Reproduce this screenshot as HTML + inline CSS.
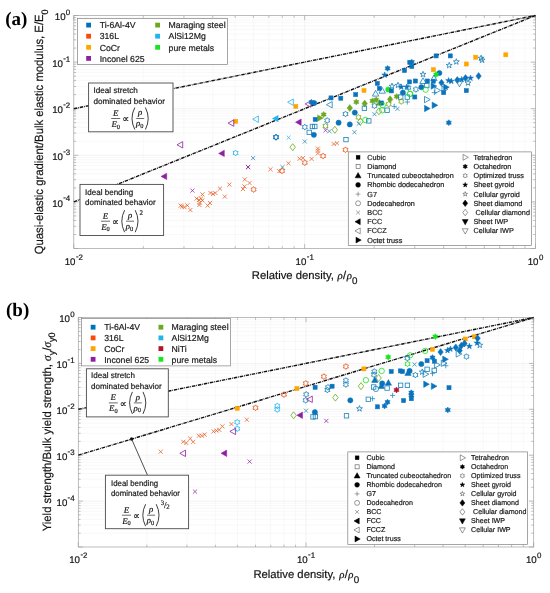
<!DOCTYPE html>
<html lang="en"><head><meta charset="utf-8"><title>Relative density charts</title>
<style>html,body{margin:0;padding:0;background:#fff}svg{display:block}text{stroke:#1a1a1a;stroke-width:.2px}text.pl{stroke:none}</style></head>
<body>
<svg width="550" height="593" viewBox="0 0 550 593" text-rendering="geometricPrecision" font-family="'Liberation Sans', Arial, sans-serif">
<rect width="550" height="593" fill="#fff"/>
<line x1="143.29" y1="15.50" x2="143.29" y2="248.50" stroke="#f5f5f5" stroke-width="0.7"/>
<line x1="183.94" y1="15.50" x2="183.94" y2="248.50" stroke="#f5f5f5" stroke-width="0.7"/>
<line x1="212.79" y1="15.50" x2="212.79" y2="248.50" stroke="#f5f5f5" stroke-width="0.7"/>
<line x1="235.16" y1="15.50" x2="235.16" y2="248.50" stroke="#f5f5f5" stroke-width="0.7"/>
<line x1="253.44" y1="15.50" x2="253.44" y2="248.50" stroke="#f5f5f5" stroke-width="0.7"/>
<line x1="268.89" y1="15.50" x2="268.89" y2="248.50" stroke="#f5f5f5" stroke-width="0.7"/>
<line x1="282.28" y1="15.50" x2="282.28" y2="248.50" stroke="#f5f5f5" stroke-width="0.7"/>
<line x1="294.09" y1="15.50" x2="294.09" y2="248.50" stroke="#f5f5f5" stroke-width="0.7"/>
<line x1="304.65" y1="15.50" x2="304.65" y2="248.50" stroke="#ececec" stroke-width="0.7"/>
<line x1="374.14" y1="15.50" x2="374.14" y2="248.50" stroke="#f5f5f5" stroke-width="0.7"/>
<line x1="414.79" y1="15.50" x2="414.79" y2="248.50" stroke="#f5f5f5" stroke-width="0.7"/>
<line x1="443.64" y1="15.50" x2="443.64" y2="248.50" stroke="#f5f5f5" stroke-width="0.7"/>
<line x1="466.01" y1="15.50" x2="466.01" y2="248.50" stroke="#f5f5f5" stroke-width="0.7"/>
<line x1="484.29" y1="15.50" x2="484.29" y2="248.50" stroke="#f5f5f5" stroke-width="0.7"/>
<line x1="499.74" y1="15.50" x2="499.74" y2="248.50" stroke="#f5f5f5" stroke-width="0.7"/>
<line x1="513.13" y1="15.50" x2="513.13" y2="248.50" stroke="#f5f5f5" stroke-width="0.7"/>
<line x1="524.94" y1="15.50" x2="524.94" y2="248.50" stroke="#f5f5f5" stroke-width="0.7"/>
<line x1="73.80" y1="234.47" x2="535.50" y2="234.47" stroke="#f5f5f5" stroke-width="0.7"/>
<line x1="73.80" y1="226.27" x2="535.50" y2="226.27" stroke="#f5f5f5" stroke-width="0.7"/>
<line x1="73.80" y1="220.44" x2="535.50" y2="220.44" stroke="#f5f5f5" stroke-width="0.7"/>
<line x1="73.80" y1="215.93" x2="535.50" y2="215.93" stroke="#f5f5f5" stroke-width="0.7"/>
<line x1="73.80" y1="212.24" x2="535.50" y2="212.24" stroke="#f5f5f5" stroke-width="0.7"/>
<line x1="73.80" y1="209.12" x2="535.50" y2="209.12" stroke="#f5f5f5" stroke-width="0.7"/>
<line x1="73.80" y1="206.42" x2="535.50" y2="206.42" stroke="#f5f5f5" stroke-width="0.7"/>
<line x1="73.80" y1="204.03" x2="535.50" y2="204.03" stroke="#f5f5f5" stroke-width="0.7"/>
<line x1="73.80" y1="201.90" x2="535.50" y2="201.90" stroke="#ececec" stroke-width="0.7"/>
<line x1="73.80" y1="187.87" x2="535.50" y2="187.87" stroke="#f5f5f5" stroke-width="0.7"/>
<line x1="73.80" y1="179.67" x2="535.50" y2="179.67" stroke="#f5f5f5" stroke-width="0.7"/>
<line x1="73.80" y1="173.84" x2="535.50" y2="173.84" stroke="#f5f5f5" stroke-width="0.7"/>
<line x1="73.80" y1="169.33" x2="535.50" y2="169.33" stroke="#f5f5f5" stroke-width="0.7"/>
<line x1="73.80" y1="165.64" x2="535.50" y2="165.64" stroke="#f5f5f5" stroke-width="0.7"/>
<line x1="73.80" y1="162.52" x2="535.50" y2="162.52" stroke="#f5f5f5" stroke-width="0.7"/>
<line x1="73.80" y1="159.82" x2="535.50" y2="159.82" stroke="#f5f5f5" stroke-width="0.7"/>
<line x1="73.80" y1="157.43" x2="535.50" y2="157.43" stroke="#f5f5f5" stroke-width="0.7"/>
<line x1="73.80" y1="155.30" x2="535.50" y2="155.30" stroke="#ececec" stroke-width="0.7"/>
<line x1="73.80" y1="141.27" x2="535.50" y2="141.27" stroke="#f5f5f5" stroke-width="0.7"/>
<line x1="73.80" y1="133.07" x2="535.50" y2="133.07" stroke="#f5f5f5" stroke-width="0.7"/>
<line x1="73.80" y1="127.24" x2="535.50" y2="127.24" stroke="#f5f5f5" stroke-width="0.7"/>
<line x1="73.80" y1="122.73" x2="535.50" y2="122.73" stroke="#f5f5f5" stroke-width="0.7"/>
<line x1="73.80" y1="119.04" x2="535.50" y2="119.04" stroke="#f5f5f5" stroke-width="0.7"/>
<line x1="73.80" y1="115.92" x2="535.50" y2="115.92" stroke="#f5f5f5" stroke-width="0.7"/>
<line x1="73.80" y1="113.22" x2="535.50" y2="113.22" stroke="#f5f5f5" stroke-width="0.7"/>
<line x1="73.80" y1="110.83" x2="535.50" y2="110.83" stroke="#f5f5f5" stroke-width="0.7"/>
<line x1="73.80" y1="108.70" x2="535.50" y2="108.70" stroke="#ececec" stroke-width="0.7"/>
<line x1="73.80" y1="94.67" x2="535.50" y2="94.67" stroke="#f5f5f5" stroke-width="0.7"/>
<line x1="73.80" y1="86.47" x2="535.50" y2="86.47" stroke="#f5f5f5" stroke-width="0.7"/>
<line x1="73.80" y1="80.64" x2="535.50" y2="80.64" stroke="#f5f5f5" stroke-width="0.7"/>
<line x1="73.80" y1="76.13" x2="535.50" y2="76.13" stroke="#f5f5f5" stroke-width="0.7"/>
<line x1="73.80" y1="72.44" x2="535.50" y2="72.44" stroke="#f5f5f5" stroke-width="0.7"/>
<line x1="73.80" y1="69.32" x2="535.50" y2="69.32" stroke="#f5f5f5" stroke-width="0.7"/>
<line x1="73.80" y1="66.62" x2="535.50" y2="66.62" stroke="#f5f5f5" stroke-width="0.7"/>
<line x1="73.80" y1="64.23" x2="535.50" y2="64.23" stroke="#f5f5f5" stroke-width="0.7"/>
<line x1="73.80" y1="62.10" x2="535.50" y2="62.10" stroke="#ececec" stroke-width="0.7"/>
<line x1="73.80" y1="48.07" x2="535.50" y2="48.07" stroke="#f5f5f5" stroke-width="0.7"/>
<line x1="73.80" y1="39.87" x2="535.50" y2="39.87" stroke="#f5f5f5" stroke-width="0.7"/>
<line x1="73.80" y1="34.04" x2="535.50" y2="34.04" stroke="#f5f5f5" stroke-width="0.7"/>
<line x1="73.80" y1="29.53" x2="535.50" y2="29.53" stroke="#f5f5f5" stroke-width="0.7"/>
<line x1="73.80" y1="25.84" x2="535.50" y2="25.84" stroke="#f5f5f5" stroke-width="0.7"/>
<line x1="73.80" y1="22.72" x2="535.50" y2="22.72" stroke="#f5f5f5" stroke-width="0.7"/>
<line x1="73.80" y1="20.02" x2="535.50" y2="20.02" stroke="#f5f5f5" stroke-width="0.7"/>
<line x1="73.80" y1="17.63" x2="535.50" y2="17.63" stroke="#f5f5f5" stroke-width="0.7"/>
<path d="M73.80 248.50v-4.60M73.80 15.50v4.60" stroke="#969696" stroke-width="0.6"/>
<path d="M143.29 248.50v-2.30M143.29 15.50v2.30" stroke="#969696" stroke-width="0.6"/>
<path d="M183.94 248.50v-2.30M183.94 15.50v2.30" stroke="#969696" stroke-width="0.6"/>
<path d="M212.79 248.50v-2.30M212.79 15.50v2.30" stroke="#969696" stroke-width="0.6"/>
<path d="M235.16 248.50v-2.30M235.16 15.50v2.30" stroke="#969696" stroke-width="0.6"/>
<path d="M253.44 248.50v-2.30M253.44 15.50v2.30" stroke="#969696" stroke-width="0.6"/>
<path d="M268.89 248.50v-2.30M268.89 15.50v2.30" stroke="#969696" stroke-width="0.6"/>
<path d="M282.28 248.50v-2.30M282.28 15.50v2.30" stroke="#969696" stroke-width="0.6"/>
<path d="M294.09 248.50v-2.30M294.09 15.50v2.30" stroke="#969696" stroke-width="0.6"/>
<path d="M304.65 248.50v-4.60M304.65 15.50v4.60" stroke="#969696" stroke-width="0.6"/>
<path d="M374.14 248.50v-2.30M374.14 15.50v2.30" stroke="#969696" stroke-width="0.6"/>
<path d="M414.79 248.50v-2.30M414.79 15.50v2.30" stroke="#969696" stroke-width="0.6"/>
<path d="M443.64 248.50v-2.30M443.64 15.50v2.30" stroke="#969696" stroke-width="0.6"/>
<path d="M466.01 248.50v-2.30M466.01 15.50v2.30" stroke="#969696" stroke-width="0.6"/>
<path d="M484.29 248.50v-2.30M484.29 15.50v2.30" stroke="#969696" stroke-width="0.6"/>
<path d="M499.74 248.50v-2.30M499.74 15.50v2.30" stroke="#969696" stroke-width="0.6"/>
<path d="M513.13 248.50v-2.30M513.13 15.50v2.30" stroke="#969696" stroke-width="0.6"/>
<path d="M524.94 248.50v-2.30M524.94 15.50v2.30" stroke="#969696" stroke-width="0.6"/>
<path d="M535.50 248.50v-4.60M535.50 15.50v4.60" stroke="#969696" stroke-width="0.6"/>
<path d="M73.80 248.50h4.60M535.50 248.50h-4.60" stroke="#969696" stroke-width="0.6"/>
<path d="M73.80 234.47h2.30M535.50 234.47h-2.30" stroke="#969696" stroke-width="0.6"/>
<path d="M73.80 226.27h2.30M535.50 226.27h-2.30" stroke="#969696" stroke-width="0.6"/>
<path d="M73.80 220.44h2.30M535.50 220.44h-2.30" stroke="#969696" stroke-width="0.6"/>
<path d="M73.80 215.93h2.30M535.50 215.93h-2.30" stroke="#969696" stroke-width="0.6"/>
<path d="M73.80 212.24h2.30M535.50 212.24h-2.30" stroke="#969696" stroke-width="0.6"/>
<path d="M73.80 209.12h2.30M535.50 209.12h-2.30" stroke="#969696" stroke-width="0.6"/>
<path d="M73.80 206.42h2.30M535.50 206.42h-2.30" stroke="#969696" stroke-width="0.6"/>
<path d="M73.80 204.03h2.30M535.50 204.03h-2.30" stroke="#969696" stroke-width="0.6"/>
<path d="M73.80 201.90h4.60M535.50 201.90h-4.60" stroke="#969696" stroke-width="0.6"/>
<path d="M73.80 187.87h2.30M535.50 187.87h-2.30" stroke="#969696" stroke-width="0.6"/>
<path d="M73.80 179.67h2.30M535.50 179.67h-2.30" stroke="#969696" stroke-width="0.6"/>
<path d="M73.80 173.84h2.30M535.50 173.84h-2.30" stroke="#969696" stroke-width="0.6"/>
<path d="M73.80 169.33h2.30M535.50 169.33h-2.30" stroke="#969696" stroke-width="0.6"/>
<path d="M73.80 165.64h2.30M535.50 165.64h-2.30" stroke="#969696" stroke-width="0.6"/>
<path d="M73.80 162.52h2.30M535.50 162.52h-2.30" stroke="#969696" stroke-width="0.6"/>
<path d="M73.80 159.82h2.30M535.50 159.82h-2.30" stroke="#969696" stroke-width="0.6"/>
<path d="M73.80 157.43h2.30M535.50 157.43h-2.30" stroke="#969696" stroke-width="0.6"/>
<path d="M73.80 155.30h4.60M535.50 155.30h-4.60" stroke="#969696" stroke-width="0.6"/>
<path d="M73.80 141.27h2.30M535.50 141.27h-2.30" stroke="#969696" stroke-width="0.6"/>
<path d="M73.80 133.07h2.30M535.50 133.07h-2.30" stroke="#969696" stroke-width="0.6"/>
<path d="M73.80 127.24h2.30M535.50 127.24h-2.30" stroke="#969696" stroke-width="0.6"/>
<path d="M73.80 122.73h2.30M535.50 122.73h-2.30" stroke="#969696" stroke-width="0.6"/>
<path d="M73.80 119.04h2.30M535.50 119.04h-2.30" stroke="#969696" stroke-width="0.6"/>
<path d="M73.80 115.92h2.30M535.50 115.92h-2.30" stroke="#969696" stroke-width="0.6"/>
<path d="M73.80 113.22h2.30M535.50 113.22h-2.30" stroke="#969696" stroke-width="0.6"/>
<path d="M73.80 110.83h2.30M535.50 110.83h-2.30" stroke="#969696" stroke-width="0.6"/>
<path d="M73.80 108.70h4.60M535.50 108.70h-4.60" stroke="#969696" stroke-width="0.6"/>
<path d="M73.80 94.67h2.30M535.50 94.67h-2.30" stroke="#969696" stroke-width="0.6"/>
<path d="M73.80 86.47h2.30M535.50 86.47h-2.30" stroke="#969696" stroke-width="0.6"/>
<path d="M73.80 80.64h2.30M535.50 80.64h-2.30" stroke="#969696" stroke-width="0.6"/>
<path d="M73.80 76.13h2.30M535.50 76.13h-2.30" stroke="#969696" stroke-width="0.6"/>
<path d="M73.80 72.44h2.30M535.50 72.44h-2.30" stroke="#969696" stroke-width="0.6"/>
<path d="M73.80 69.32h2.30M535.50 69.32h-2.30" stroke="#969696" stroke-width="0.6"/>
<path d="M73.80 66.62h2.30M535.50 66.62h-2.30" stroke="#969696" stroke-width="0.6"/>
<path d="M73.80 64.23h2.30M535.50 64.23h-2.30" stroke="#969696" stroke-width="0.6"/>
<path d="M73.80 62.10h4.60M535.50 62.10h-4.60" stroke="#969696" stroke-width="0.6"/>
<path d="M73.80 48.07h2.30M535.50 48.07h-2.30" stroke="#969696" stroke-width="0.6"/>
<path d="M73.80 39.87h2.30M535.50 39.87h-2.30" stroke="#969696" stroke-width="0.6"/>
<path d="M73.80 34.04h2.30M535.50 34.04h-2.30" stroke="#969696" stroke-width="0.6"/>
<path d="M73.80 29.53h2.30M535.50 29.53h-2.30" stroke="#969696" stroke-width="0.6"/>
<path d="M73.80 25.84h2.30M535.50 25.84h-2.30" stroke="#969696" stroke-width="0.6"/>
<path d="M73.80 22.72h2.30M535.50 22.72h-2.30" stroke="#969696" stroke-width="0.6"/>
<path d="M73.80 20.02h2.30M535.50 20.02h-2.30" stroke="#969696" stroke-width="0.6"/>
<path d="M73.80 17.63h2.30M535.50 17.63h-2.30" stroke="#969696" stroke-width="0.6"/>
<path d="M73.80 15.50h4.60M535.50 15.50h-4.60" stroke="#969696" stroke-width="0.6"/>
<rect x="73.80" y="15.50" width="461.70" height="233.00" fill="none" stroke="#a0a0a0" stroke-width="0.7"/>
<line x1="73.80" y1="108.70" x2="535.50" y2="15.50" stroke="#111" stroke-width="1.4" stroke-dasharray="3.5 0.9 0.8 0.9"/>
<line x1="73.80" y1="201.90" x2="535.50" y2="15.50" stroke="#111" stroke-width="1.4" stroke-dasharray="3.5 0.9 0.8 0.9"/>
<rect x="233.65" y="119.25" width="4.10" height="4.10" fill="#FFA500" stroke="#FFA500" stroke-width="0.5"/>
<polygon points="228.10,123.10 233.80,119.90 233.80,126.30" fill="none" stroke="#8E1FA0" stroke-width="0.80" stroke-linejoin="miter"/>
<polygon points="177.00,144.80 182.70,141.60 182.70,148.00" fill="none" stroke="#8E1FA0" stroke-width="0.80" stroke-linejoin="miter"/>
<polygon points="218.60,153.40 224.30,150.20 224.30,156.60" fill="#8E1FA0" stroke="#8E1FA0" stroke-width="0.5" stroke-linejoin="miter"/>
<polygon points="235.60,150.05 236.51,151.42 238.15,151.53 237.43,153.00 238.15,154.47 236.51,154.58 235.60,155.95 234.69,154.58 233.05,154.47 233.77,153.00 233.05,151.53 234.69,151.42" fill="none" stroke="#22B4EE" stroke-width="0.80" stroke-linejoin="miter"/>
<polygon points="161.00,176.40 166.70,173.20 166.70,179.60" fill="#8E1FA0" stroke="#8E1FA0" stroke-width="0.5" stroke-linejoin="miter"/>
<path d="M245.95 164.95L250.05 169.05M245.95 169.05L250.05 164.95" stroke="#8E1FA0" stroke-width="0.72" fill="none"/>
<path d="M190.35 188.55L194.45 192.65M190.35 192.65L194.45 188.55" stroke="#8E1FA0" stroke-width="0.72" fill="none"/>
<polygon points="253.60,186.55 254.51,187.92 256.15,188.03 255.43,189.50 256.15,190.97 254.51,191.08 253.60,192.45 252.69,191.08 251.05,190.97 251.77,189.50 251.05,188.03 252.69,187.92" fill="none" stroke="#E4561B" stroke-width="0.80" stroke-linejoin="miter"/>
<path d="M178.55 203.55L182.65 207.65M178.55 207.65L182.65 203.55" stroke="#E4561B" stroke-width="0.72" fill="none"/>
<path d="M179.95 204.55L184.05 208.65M179.95 208.65L184.05 204.55" stroke="#E4561B" stroke-width="0.72" fill="none"/>
<path d="M182.35 205.15L186.45 209.25M182.35 209.25L186.45 205.15" stroke="#E4561B" stroke-width="0.72" fill="none"/>
<path d="M185.35 203.35L189.45 207.45M185.35 207.45L189.45 203.35" stroke="#E4561B" stroke-width="0.72" fill="none"/>
<path d="M188.35 207.95L192.45 212.05M188.35 212.05L192.45 207.95" stroke="#E4561B" stroke-width="0.72" fill="none"/>
<path d="M194.55 196.55L198.65 200.65M194.55 200.65L198.65 196.55" stroke="#E4561B" stroke-width="0.72" fill="none"/>
<path d="M196.95 197.95L201.05 202.05M196.95 202.05L201.05 197.95" stroke="#E4561B" stroke-width="0.72" fill="none"/>
<path d="M197.55 200.95L201.65 205.05M197.55 205.05L201.65 200.95" stroke="#E4561B" stroke-width="0.72" fill="none"/>
<path d="M197.35 202.95L201.45 207.05M197.35 207.05L201.45 202.95" stroke="#E4561B" stroke-width="0.72" fill="none"/>
<path d="M198.95 196.55L203.05 200.65M198.95 200.65L203.05 196.55" stroke="#E4561B" stroke-width="0.72" fill="none"/>
<path d="M200.35 198.35L204.45 202.45M200.35 202.45L204.45 198.35" stroke="#E4561B" stroke-width="0.72" fill="none"/>
<path d="M200.35 192.35L204.45 196.45M200.35 196.45L204.45 192.35" stroke="#E4561B" stroke-width="0.72" fill="none"/>
<path d="M205.55 203.55L209.65 207.65M205.55 207.65L209.65 203.55" stroke="#E4561B" stroke-width="0.72" fill="none"/>
<path d="M207.95 200.95L212.05 205.05M207.95 205.05L212.05 200.95" stroke="#E4561B" stroke-width="0.72" fill="none"/>
<path d="M208.35 190.95L212.45 195.05M208.35 195.05L212.45 190.95" stroke="#E4561B" stroke-width="0.72" fill="none"/>
<path d="M210.95 191.95L215.05 196.05M210.95 196.05L215.05 191.95" stroke="#E4561B" stroke-width="0.72" fill="none"/>
<path d="M213.35 190.95L217.45 195.05M213.35 195.05L217.45 190.95" stroke="#E4561B" stroke-width="0.72" fill="none"/>
<path d="M217.95 186.55L222.05 190.65M217.95 190.65L222.05 186.55" stroke="#E4561B" stroke-width="0.72" fill="none"/>
<path d="M222.75 194.55L226.85 198.65M222.75 198.65L226.85 194.55" stroke="#E4561B" stroke-width="0.72" fill="none"/>
<path d="M227.35 182.55L231.45 186.65M227.35 186.65L231.45 182.55" stroke="#E4561B" stroke-width="0.72" fill="none"/>
<path d="M240.95 186.95L245.05 191.05M240.95 191.05L245.05 186.95" stroke="#E4561B" stroke-width="0.72" fill="none"/>
<path d="M242.35 184.35L246.45 188.45M242.35 188.45L246.45 184.35" stroke="#E4561B" stroke-width="0.72" fill="none"/>
<path d="M242.75 177.35L246.85 181.45M242.75 181.45L246.85 177.35" stroke="#E4561B" stroke-width="0.72" fill="none"/>
<path d="M247.55 180.95L251.65 185.05M247.55 185.05L251.65 180.95" stroke="#E4561B" stroke-width="0.72" fill="none"/>
<path d="M268.45 167.25L272.55 171.35M268.45 171.35L272.55 167.25" stroke="#E4561B" stroke-width="0.72" fill="none"/>
<path d="M277.25 169.15L281.35 173.25M277.25 173.25L281.35 169.15" stroke="#E4561B" stroke-width="0.72" fill="none"/>
<path d="M286.45 161.25L290.55 165.35M286.45 165.35L290.55 161.25" stroke="#E4561B" stroke-width="0.72" fill="none"/>
<path d="M297.55 156.65L301.65 160.75M297.55 160.75L301.65 156.65" stroke="#E4561B" stroke-width="0.72" fill="none"/>
<path d="M331.65 141.95L335.75 146.05M331.65 146.05L335.75 141.95" stroke="#E4561B" stroke-width="0.72" fill="none"/>
<path d="M334.95 141.25L339.05 145.35M334.95 145.35L339.05 141.25" stroke="#E4561B" stroke-width="0.72" fill="none"/>
<path d="M315.85 146.45L319.95 150.55M315.85 150.55L319.95 146.45" stroke="#E4561B" stroke-width="0.72" fill="none"/>
<path d="M315.85 148.65L319.95 152.75M315.85 152.75L319.95 148.65" stroke="#E4561B" stroke-width="0.72" fill="none"/>
<path d="M315.85 151.35L319.95 155.45M315.85 155.45L319.95 151.35" stroke="#E4561B" stroke-width="0.72" fill="none"/>
<path d="M300.85 156.05L304.95 160.15M300.85 160.15L304.95 156.05" stroke="#E4561B" stroke-width="0.72" fill="none"/>
<path d="M309.55 156.85L313.65 160.95M309.55 160.95L313.65 156.85" stroke="#E4561B" stroke-width="0.72" fill="none"/>
<polygon points="287.60,102.20 293.30,99.00 293.30,105.40" fill="none" stroke="#22B4EE" stroke-width="0.80" stroke-linejoin="miter"/>
<rect x="293.75" y="104.35" width="4.10" height="4.10" fill="#FFA500" stroke="#FFA500" stroke-width="0.5"/>
<polygon points="252.70,119.20 258.40,116.00 258.40,122.40" fill="none" stroke="#22B4EE" stroke-width="0.80" stroke-linejoin="miter"/>
<polygon points="272.40,118.60 278.10,115.40 278.10,121.80" fill="#22B4EE" stroke="#22B4EE" stroke-width="0.5" stroke-linejoin="miter"/>
<polygon points="295.50,122.20 301.20,119.00 301.20,125.40" fill="#8E1FA0" stroke="#8E1FA0" stroke-width="0.5" stroke-linejoin="miter"/>
<polygon points="305.20,104.00 310.90,100.80 310.90,107.20" fill="none" stroke="#8E1FA0" stroke-width="0.80" stroke-linejoin="miter"/>
<polygon points="311.40,99.25 312.31,100.62 313.95,100.73 313.23,102.20 313.95,103.67 312.31,103.78 311.40,105.15 310.49,103.78 308.85,103.67 309.57,102.20 308.85,100.73 310.49,100.62" fill="#0A73BD" stroke="#0A73BD" stroke-width="0.5" stroke-linejoin="miter"/>
<circle cx="314.20" cy="103.00" r="2.60" fill="#0A73BD" stroke="#0A73BD" stroke-width="0.5"/>
<rect x="328.95" y="95.85" width="4.10" height="4.10" fill="#0A73BD" stroke="#0A73BD" stroke-width="0.5"/>
<rect x="338.75" y="96.15" width="4.10" height="4.10" fill="#0A73BD" stroke="#0A73BD" stroke-width="0.5"/>
<polygon points="326.50,104.70 332.20,101.50 332.20,107.90" fill="none" stroke="#1B80B8" stroke-width="0.80" stroke-linejoin="miter"/>
<polygon points="349.80,104.50 352.50,108.00 349.80,111.50 347.10,108.00" fill="#6DA823" stroke="#6DA823" stroke-width="0.5" stroke-linejoin="miter"/>
<polygon points="323.70,111.55 324.61,112.92 326.25,113.03 325.53,114.50 326.25,115.97 324.61,116.08 323.70,117.45 322.79,116.08 321.15,115.97 321.87,114.50 321.15,113.03 322.79,112.92" fill="#6DA823" stroke="#6DA823" stroke-width="0.5" stroke-linejoin="miter"/>
<polygon points="323.30,118.10 317.60,114.90 317.60,121.30" fill="#6DA823" stroke="#6DA823" stroke-width="0.5" stroke-linejoin="miter"/>
<rect x="313.15" y="117.35" width="4.10" height="4.10" fill="#0A73BD" stroke="#0A73BD" stroke-width="0.5"/>
<polygon points="345.50,111.05 346.41,112.42 348.05,112.53 347.33,114.00 348.05,115.47 346.41,115.58 345.50,116.95 344.59,115.58 342.95,115.47 343.67,114.00 342.95,112.53 344.59,112.42" fill="none" stroke="#1B80B8" stroke-width="0.80" stroke-linejoin="miter"/>
<polygon points="327.20,117.55 328.11,118.92 329.75,119.03 329.03,120.50 329.75,121.97 328.11,122.08 327.20,123.45 326.29,122.08 324.65,121.97 325.37,120.50 324.65,119.03 326.29,118.92" fill="none" stroke="#1B80B8" stroke-width="0.80" stroke-linejoin="miter"/>
<circle cx="338.60" cy="122.70" r="2.60" fill="#0A73BD" stroke="#0A73BD" stroke-width="0.5"/>
<circle cx="349.80" cy="124.40" r="2.60" fill="#0A73BD" stroke="#0A73BD" stroke-width="0.5"/>
<circle cx="354.80" cy="112.60" r="2.60" fill="#0A73BD" stroke="#0A73BD" stroke-width="0.5"/>
<rect x="353.65" y="92.55" width="4.10" height="4.10" fill="#0A73BD" stroke="#0A73BD" stroke-width="0.5"/>
<polygon points="304.80,124.15 305.71,125.52 307.35,125.62 306.63,127.10 307.35,128.57 305.71,128.68 304.80,130.05 303.89,128.68 302.25,128.57 302.97,127.10 302.25,125.62 303.89,125.52" fill="none" stroke="#1B80B8" stroke-width="0.80" stroke-linejoin="miter"/>
<rect x="310.20" y="124.30" width="4.40" height="4.40" fill="none" stroke="#1B80B8" stroke-width="0.80"/>
<rect x="312.60" y="124.30" width="4.40" height="4.40" fill="none" stroke="#1B80B8" stroke-width="0.80"/>
<polygon points="325.50,123.05 326.41,124.42 328.05,124.53 327.33,126.00 328.05,127.47 326.41,127.58 325.50,128.95 324.59,127.58 322.95,127.47 323.67,126.00 322.95,124.53 324.59,124.42" fill="none" stroke="#6DA823" stroke-width="0.80" stroke-linejoin="miter"/>
<polygon points="334.80,126.30 337.50,129.80 334.80,133.30 332.10,129.80" fill="none" stroke="#6DA823" stroke-width="0.80" stroke-linejoin="miter"/>
<path d="M323.45 128.25L327.55 132.35M323.45 132.35L327.55 128.25" stroke="#8E1FA0" stroke-width="0.72" fill="none"/>
<path d="M327.35 129.15L331.45 133.25M327.35 133.25L331.45 129.15" stroke="#1B80B8" stroke-width="0.72" fill="none"/>
<rect x="307.00" y="130.20" width="4.40" height="4.40" fill="none" stroke="#1B80B8" stroke-width="0.80"/>
<circle cx="313.90" cy="134.80" r="2.60" fill="#0A73BD" stroke="#0A73BD" stroke-width="0.5"/>
<path d="M352.35 130.15L356.45 134.25M352.35 134.25L356.45 130.15" stroke="#1B80B8" stroke-width="0.72" fill="none"/>
<polygon points="276.00,134.45 276.91,135.82 278.55,135.93 277.83,137.40 278.55,138.88 276.91,138.98 276.00,140.35 275.09,138.98 273.45,138.88 274.17,137.40 273.45,135.93 275.09,135.82" fill="none" stroke="#0A73BD" stroke-width="0.80" stroke-linejoin="miter"/>
<polygon points="276.00,134.05 276.91,135.42 278.55,135.53 277.83,137.00 278.55,138.47 276.91,138.58 276.00,139.95 275.09,138.58 273.45,138.47 274.17,137.00 273.45,135.53 275.09,135.42" fill="none" stroke="#0A73BD" stroke-width="0.80" stroke-linejoin="miter"/>
<path d="M286.65 135.55L290.75 139.65M286.65 139.65L290.75 135.55" stroke="#22B4EE" stroke-width="0.72" fill="none"/>
<polygon points="292.70,143.70 295.40,147.20 292.70,150.70 290.00,147.20" fill="none" stroke="#6DA823" stroke-width="0.80" stroke-linejoin="miter"/>
<path d="M251.05 156.05L255.15 160.15M251.05 160.15L255.15 156.05" stroke="#1B80B8" stroke-width="0.72" fill="none"/>
<path d="M246.15 165.05L250.25 169.15M246.15 169.15L250.25 165.05" stroke="#8E1FA0" stroke-width="0.72" fill="none"/>
<path d="M280.45 165.05L284.55 169.15M280.45 169.15L284.55 165.05" stroke="#1B80B8" stroke-width="0.72" fill="none"/>
<polygon points="282.00,167.95 282.91,169.32 284.55,169.43 283.83,170.90 284.55,172.38 282.91,172.48 282.00,173.85 281.09,172.48 279.45,172.38 280.17,170.90 279.45,169.43 281.09,169.32" fill="none" stroke="#E4561B" stroke-width="0.80" stroke-linejoin="miter"/>
<path d="M302.75 139.45L306.85 143.55M302.75 143.55L306.85 139.45" stroke="#1B80B8" stroke-width="0.72" fill="none"/>
<rect x="343.80" y="137.40" width="4.40" height="4.40" fill="none" stroke="#1B80B8" stroke-width="0.80"/>
<polygon points="345.50,146.85 346.41,148.22 348.05,148.33 347.33,149.80 348.05,151.28 346.41,151.38 345.50,152.75 344.59,151.38 342.95,151.28 343.67,149.80 342.95,148.33 344.59,148.22" fill="none" stroke="#E4561B" stroke-width="0.80" stroke-linejoin="miter"/>
<polygon points="323.10,153.05 324.01,154.42 325.65,154.53 324.93,156.00 325.65,157.47 324.01,157.58 323.10,158.95 322.19,157.58 320.55,157.47 321.27,156.00 320.55,154.53 322.19,154.42" fill="none" stroke="#E4561B" stroke-width="0.80" stroke-linejoin="miter"/>
<polygon points="304.80,159.75 305.71,161.12 307.35,161.22 306.63,162.70 307.35,164.17 305.71,164.28 304.80,165.65 303.89,164.28 302.25,164.17 302.97,162.70 302.25,161.22 303.89,161.12" fill="none" stroke="#E4561B" stroke-width="0.80" stroke-linejoin="miter"/>
<rect x="361.95" y="88.45" width="4.10" height="4.10" fill="#FFA500" stroke="#FFA500" stroke-width="0.5"/>
<polygon points="375.60,90.40 372.40,96.10 378.80,96.10" fill="none" stroke="#1B80B8" stroke-width="0.80" stroke-linejoin="miter"/>
<polygon points="382.20,87.50 379.00,93.20 385.40,93.20" fill="none" stroke="#1B80B8" stroke-width="0.80" stroke-linejoin="miter"/>
<circle cx="388.20" cy="89.50" r="2.60" fill="#18E61C" stroke="#18E61C" stroke-width="0.5"/>
<rect x="389.35" y="88.85" width="4.10" height="4.10" fill="#0A73BD" stroke="#0A73BD" stroke-width="0.5"/>
<circle cx="402.90" cy="92.70" r="2.60" fill="#0A73BD" stroke="#0A73BD" stroke-width="0.5"/>
<circle cx="409.80" cy="94.00" r="2.70" fill="none" stroke="#18E61C" stroke-width="0.80"/>
<polygon points="356.30,99.05 357.21,100.42 358.85,100.53 358.13,102.00 358.85,103.47 357.21,103.58 356.30,104.95 355.39,103.58 353.75,103.47 354.47,102.00 353.75,100.53 355.39,100.42" fill="#6DA823" stroke="#6DA823" stroke-width="0.5" stroke-linejoin="miter"/>
<polygon points="364.70,100.10 367.40,103.60 364.70,107.10 362.00,103.60" fill="#6DA823" stroke="#6DA823" stroke-width="0.5" stroke-linejoin="miter"/>
<polygon points="372.40,97.95 373.31,99.32 374.95,99.43 374.23,100.90 374.95,102.38 373.31,102.48 372.40,103.85 371.49,102.48 369.85,102.38 370.57,100.90 369.85,99.43 371.49,99.32" fill="#6DA823" stroke="#6DA823" stroke-width="0.5" stroke-linejoin="miter"/>
<polygon points="376.20,96.85 377.11,98.22 378.75,98.33 378.03,99.80 378.75,101.27 377.11,101.38 376.20,102.75 375.29,101.38 373.65,101.27 374.37,99.80 373.65,98.33 375.29,98.22" fill="#6DA823" stroke="#6DA823" stroke-width="0.5" stroke-linejoin="miter"/>
<polygon points="379.40,99.60 376.20,105.30 382.60,105.30" fill="#6DA823" stroke="#6DA823" stroke-width="0.5" stroke-linejoin="miter"/>
<polygon points="390.10,95.80 392.80,99.30 390.10,102.80 387.40,99.30" fill="#6DA823" stroke="#6DA823" stroke-width="0.5" stroke-linejoin="miter"/>
<polygon points="396.70,93.55 397.61,94.92 399.25,95.03 398.53,96.50 399.25,97.97 397.61,98.08 396.70,99.45 395.79,98.08 394.15,97.97 394.87,96.50 394.15,95.03 395.79,94.92" fill="#6DA823" stroke="#6DA823" stroke-width="0.5" stroke-linejoin="miter"/>
<rect x="398.50" y="94.90" width="4.40" height="4.40" fill="none" stroke="#1B80B8" stroke-width="0.80"/>
<rect x="405.10" y="94.90" width="4.40" height="4.40" fill="none" stroke="#1B80B8" stroke-width="0.80"/>
<polygon points="401.30,98.55 402.21,99.92 403.85,100.03 403.13,101.50 403.85,102.97 402.21,103.08 401.30,104.45 400.39,103.08 398.75,102.97 399.47,101.50 398.75,100.03 400.39,99.92" fill="none" stroke="#6DA823" stroke-width="0.80" stroke-linejoin="miter"/>
<path d="M404.70 102.00L409.90 102.00M407.30 99.40L407.30 104.60" stroke="#1B80B8" stroke-width="0.72" fill="none"/>
<rect x="362.20" y="106.10" width="4.40" height="4.40" fill="none" stroke="#1B80B8" stroke-width="0.80"/>
<polygon points="374.50,102.85 375.41,104.22 377.05,104.33 376.33,105.80 377.05,107.27 375.41,107.38 374.50,108.75 373.59,107.38 371.95,107.27 372.67,105.80 371.95,104.33 373.59,104.22" fill="none" stroke="#1B80B8" stroke-width="0.80" stroke-linejoin="miter"/>
<rect x="379.55" y="100.95" width="4.10" height="4.10" fill="#0A73BD" stroke="#0A73BD" stroke-width="0.5"/>
<circle cx="382.70" cy="105.30" r="2.70" fill="none" stroke="#18E61C" stroke-width="0.80"/>
<polygon points="388.70,101.25 389.61,102.62 391.25,102.73 390.53,104.20 391.25,105.67 389.61,105.78 388.70,107.15 387.79,105.78 386.15,105.67 386.87,104.20 386.15,102.73 387.79,102.62" fill="none" stroke="#6DA823" stroke-width="0.80" stroke-linejoin="miter"/>
<path d="M391.60 106.40L396.80 106.40M394.20 103.80L394.20 109.00" stroke="#1B80B8" stroke-width="0.72" fill="none"/>
<path d="M395.35 106.75L399.45 110.85M395.35 110.85L399.45 106.75" stroke="#1B80B8" stroke-width="0.72" fill="none"/>
<polygon points="378.90,107.80 381.60,111.30 378.90,114.80 376.20,111.30" fill="none" stroke="#6DA823" stroke-width="0.80" stroke-linejoin="miter"/>
<circle cx="382.20" cy="110.20" r="2.70" fill="none" stroke="#18E61C" stroke-width="0.80"/>
<rect x="384.90" y="108.00" width="4.40" height="4.40" fill="none" stroke="#1B80B8" stroke-width="0.80"/>
<path d="M372.45 112.15L376.55 116.25M372.45 116.25L376.55 112.15" stroke="#1B80B8" stroke-width="0.72" fill="none"/>
<polygon points="358.50,114.35 359.41,115.72 361.05,115.83 360.33,117.30 361.05,118.77 359.41,118.88 358.50,120.25 357.59,118.88 355.95,118.77 356.67,117.30 355.95,115.83 357.59,115.72" fill="none" stroke="#6DA823" stroke-width="0.80" stroke-linejoin="miter"/>
<polygon points="360.40,118.10 363.10,121.60 360.40,125.10 357.70,121.60" fill="none" stroke="#6DA823" stroke-width="0.80" stroke-linejoin="miter"/>
<circle cx="365.30" cy="120.00" r="2.70" fill="none" stroke="#18E61C" stroke-width="0.80"/>
<rect x="366.60" y="118.70" width="4.40" height="4.40" fill="none" stroke="#1B80B8" stroke-width="0.80"/>
<path d="M356.65 121.75L360.75 125.85M356.65 125.85L360.75 121.75" stroke="#1B80B8" stroke-width="0.72" fill="none"/>
<polygon points="387.60,65.45 388.51,66.82 390.15,66.93 389.43,68.40 390.15,69.88 388.51,69.98 387.60,71.35 386.69,69.98 385.05,69.88 385.77,68.40 385.05,66.93 386.69,66.82" fill="#0A73BD" stroke="#0A73BD" stroke-width="0.5" stroke-linejoin="miter"/>
<polygon points="384.70,71.90 385.43,74.00 387.65,74.04 385.88,75.38 386.52,77.51 384.70,76.24 382.88,77.51 383.52,75.38 381.75,74.04 383.97,74.00" fill="#0A73BD" stroke="#0A73BD" stroke-width="0.5" stroke-linejoin="miter"/>
<rect x="402.45" y="68.45" width="4.10" height="4.10" fill="#0A73BD" stroke="#0A73BD" stroke-width="0.5"/>
<rect x="375.25" y="81.35" width="4.10" height="4.10" fill="#0A73BD" stroke="#0A73BD" stroke-width="0.5"/>
<rect x="407.75" y="60.35" width="4.10" height="4.10" fill="#0A73BD" stroke="#0A73BD" stroke-width="0.5"/>
<rect x="407.45" y="79.85" width="4.10" height="4.10" fill="#0A73BD" stroke="#0A73BD" stroke-width="0.5"/>
<rect x="377.35" y="86.35" width="4.10" height="4.10" fill="#0A73BD" stroke="#0A73BD" stroke-width="0.5"/>
<polygon points="392.00,83.10 392.73,85.20 394.95,85.24 393.18,86.58 393.82,88.71 392.00,87.44 390.18,88.71 390.82,86.58 389.05,85.24 391.27,85.20" fill="none" stroke="#1B80B8" stroke-width="0.80" stroke-linejoin="miter"/>
<polygon points="398.00,82.20 398.73,84.30 400.95,84.34 399.18,85.68 399.82,87.81 398.00,86.54 396.18,87.81 396.82,85.68 395.05,84.34 397.27,84.30" fill="none" stroke="#1B80B8" stroke-width="0.80" stroke-linejoin="miter"/>
<polygon points="401.30,83.90 402.03,86.00 404.25,86.04 402.48,87.38 403.12,89.51 401.30,88.24 399.48,89.51 400.12,87.38 398.35,86.04 400.57,86.00" fill="#0A73BD" stroke="#0A73BD" stroke-width="0.5" stroke-linejoin="miter"/>
<polygon points="406.70,83.90 407.43,86.00 409.65,86.04 407.88,87.38 408.52,89.51 406.70,88.24 404.88,89.51 405.52,87.38 403.75,86.04 405.97,86.00" fill="#0A73BD" stroke="#0A73BD" stroke-width="0.5" stroke-linejoin="miter"/>
<rect x="434.05" y="53.85" width="4.10" height="4.10" fill="#0A73BD" stroke="#0A73BD" stroke-width="0.5"/>
<rect x="448.25" y="53.85" width="4.10" height="4.10" fill="#0A73BD" stroke="#0A73BD" stroke-width="0.5"/>
<polygon points="411.80,59.15 412.71,60.52 414.35,60.62 413.63,62.10 414.35,63.58 412.71,63.68 411.80,65.05 410.89,63.68 409.25,63.58 409.97,62.10 409.25,60.62 410.89,60.52" fill="#0A73BD" stroke="#0A73BD" stroke-width="0.5" stroke-linejoin="miter"/>
<rect x="409.75" y="64.45" width="4.10" height="4.10" fill="#0A73BD" stroke="#0A73BD" stroke-width="0.5"/>
<rect x="431.35" y="67.65" width="4.10" height="4.10" fill="#FFA500" stroke="#FFA500" stroke-width="0.5"/>
<polygon points="456.30,58.70 457.03,60.80 459.25,60.84 457.48,62.18 458.12,64.31 456.30,63.04 454.48,64.31 455.12,62.18 453.35,60.84 455.57,60.80" fill="none" stroke="#1B80B8" stroke-width="0.80" stroke-linejoin="miter"/>
<polygon points="449.20,62.30 449.93,64.40 452.15,64.44 450.38,65.78 451.02,67.91 449.20,66.64 447.38,67.91 448.02,65.78 446.25,64.44 448.47,64.40" fill="none" stroke="#1B80B8" stroke-width="0.80" stroke-linejoin="miter"/>
<circle cx="439.40" cy="73.00" r="2.60" fill="#0A73BD" stroke="#0A73BD" stroke-width="0.5"/>
<polygon points="436.10,71.65 437.01,73.02 438.65,73.12 437.93,74.60 438.65,76.07 437.01,76.18 436.10,77.55 435.19,76.18 433.55,76.07 434.27,74.60 433.55,73.12 435.19,73.02" fill="#18E61C" stroke="#18E61C" stroke-width="0.5" stroke-linejoin="miter"/>
<polygon points="423.00,71.30 423.73,73.40 425.95,73.44 424.18,74.78 424.82,76.91 423.00,75.64 421.18,76.91 421.82,74.78 420.05,73.44 422.27,73.40" fill="none" stroke="#1B80B8" stroke-width="0.80" stroke-linejoin="miter"/>
<polygon points="433.90,75.00 430.70,80.70 437.10,80.70" fill="none" stroke="#1B80B8" stroke-width="0.80" stroke-linejoin="miter"/>
<rect x="413.35" y="78.95" width="4.10" height="4.10" fill="#0A73BD" stroke="#0A73BD" stroke-width="0.5"/>
<polygon points="423.00,77.80 419.80,83.50 426.20,83.50" fill="none" stroke="#1B80B8" stroke-width="0.80" stroke-linejoin="miter"/>
<rect x="425.35" y="78.95" width="4.10" height="4.10" fill="#0A73BD" stroke="#0A73BD" stroke-width="0.5"/>
<rect x="431.35" y="79.15" width="4.10" height="4.10" fill="#0A73BD" stroke="#0A73BD" stroke-width="0.5"/>
<polygon points="441.50,79.30 444.20,82.80 441.50,86.30 438.80,82.80" fill="#0A73BD" stroke="#0A73BD" stroke-width="0.5" stroke-linejoin="miter"/>
<polygon points="448.60,77.50 449.33,79.60 451.55,79.64 449.78,80.98 450.42,83.11 448.60,81.84 446.78,83.11 447.42,80.98 445.65,79.64 447.87,79.60" fill="#0A73BD" stroke="#0A73BD" stroke-width="0.5" stroke-linejoin="miter"/>
<polygon points="451.30,78.10 452.03,80.20 454.25,80.24 452.48,81.58 453.12,83.71 451.30,82.44 449.48,83.71 450.12,81.58 448.35,80.24 450.57,80.20" fill="#0A73BD" stroke="#0A73BD" stroke-width="0.5" stroke-linejoin="miter"/>
<polygon points="457.30,76.60 460.00,80.10 457.30,83.60 454.60,80.10" fill="#0A73BD" stroke="#0A73BD" stroke-width="0.5" stroke-linejoin="miter"/>
<polygon points="461.70,76.40 462.43,78.50 464.65,78.54 462.88,79.88 463.52,82.01 461.70,80.74 459.88,82.01 460.52,79.88 458.75,78.54 460.97,78.50" fill="#0A73BD" stroke="#0A73BD" stroke-width="0.5" stroke-linejoin="miter"/>
<polygon points="459.50,86.80 456.30,81.10 462.70,81.10" fill="none" stroke="#1B80B8" stroke-width="0.80" stroke-linejoin="miter"/>
<circle cx="421.40" cy="87.20" r="2.60" fill="#0A73BD" stroke="#0A73BD" stroke-width="0.5"/>
<rect x="424.60" y="83.30" width="4.40" height="4.40" fill="none" stroke="#1B80B8" stroke-width="0.80"/>
<circle cx="425.70" cy="89.70" r="2.70" fill="none" stroke="#18E61C" stroke-width="0.80"/>
<polygon points="436.80,86.10 431.10,82.90 431.10,89.30" fill="#0A73BD" stroke="#0A73BD" stroke-width="0.5" stroke-linejoin="miter"/>
<polygon points="440.60,90.40 434.90,87.20 434.90,93.60" fill="none" stroke="#1B80B8" stroke-width="0.80" stroke-linejoin="miter"/>
<polygon points="447.70,89.40 442.00,86.20 442.00,92.60" fill="none" stroke="#1B80B8" stroke-width="0.80" stroke-linejoin="miter"/>
<polygon points="449.30,87.20 443.60,84.00 443.60,90.40" fill="#0A73BD" stroke="#0A73BD" stroke-width="0.5" stroke-linejoin="miter"/>
<rect x="441.65" y="90.55" width="4.10" height="4.10" fill="#0A73BD" stroke="#0A73BD" stroke-width="0.5"/>
<polygon points="415.90,86.45 416.81,87.82 418.45,87.93 417.73,89.40 418.45,90.88 416.81,90.98 415.90,92.35 414.99,90.98 413.35,90.88 414.07,89.40 413.35,87.93 414.99,87.82" fill="none" stroke="#1B80B8" stroke-width="0.80" stroke-linejoin="miter"/>
<polygon points="408.30,84.75 409.21,86.12 410.85,86.23 410.13,87.70 410.85,89.17 409.21,89.28 408.30,90.65 407.39,89.28 405.75,89.17 406.47,87.70 405.75,86.23 407.39,86.12" fill="none" stroke="#1B80B8" stroke-width="0.80" stroke-linejoin="miter"/>
<circle cx="410.20" cy="93.70" r="2.70" fill="none" stroke="#18E61C" stroke-width="0.80"/>
<rect x="412.75" y="94.95" width="4.10" height="4.10" fill="#0A73BD" stroke="#0A73BD" stroke-width="0.5"/>
<polygon points="430.20,99.60 424.50,96.40 424.50,102.80" fill="none" stroke="#1B80B8" stroke-width="0.80" stroke-linejoin="miter"/>
<path d="M431.80 92.60L437.00 92.60M434.40 90.00L434.40 95.20" stroke="#1B80B8" stroke-width="0.72" fill="none"/>
<polygon points="437.80,105.30 432.10,102.10 432.10,108.50" fill="#0A73BD" stroke="#0A73BD" stroke-width="0.5" stroke-linejoin="miter"/>
<polygon points="430.20,108.50 424.50,105.30 424.50,111.70" fill="#0A73BD" stroke="#0A73BD" stroke-width="0.5" stroke-linejoin="miter"/>
<polygon points="448.80,119.75 449.71,121.12 451.35,121.23 450.63,122.70 451.35,124.17 449.71,124.28 448.80,125.65 447.89,124.28 446.25,124.17 446.97,122.70 446.25,121.23 447.89,121.12" fill="#0A73BD" stroke="#0A73BD" stroke-width="0.5" stroke-linejoin="miter"/>
<rect x="503.75" y="52.75" width="4.10" height="4.10" fill="#FFA500" stroke="#FFA500" stroke-width="0.5"/>
<rect x="473.65" y="55.15" width="4.10" height="4.10" fill="#FFA500" stroke="#FFA500" stroke-width="0.5"/>
<rect x="464.25" y="61.95" width="4.10" height="4.10" fill="#FFA500" stroke="#FFA500" stroke-width="0.5"/>
<polygon points="481.10,55.10 481.83,57.20 484.05,57.24 482.28,58.58 482.92,60.71 481.10,59.44 479.28,60.71 479.92,58.58 478.15,57.24 480.37,57.20" fill="none" stroke="#1B80B8" stroke-width="0.80" stroke-linejoin="miter"/>
<polygon points="482.10,57.00 482.83,59.10 485.05,59.14 483.28,60.48 483.92,62.61 482.10,61.34 480.28,62.61 480.92,60.48 479.15,59.14 481.37,59.10" fill="none" stroke="#1B80B8" stroke-width="0.80" stroke-linejoin="miter"/>
<polygon points="478.60,72.60 481.30,76.10 478.60,79.60 475.90,76.10" fill="#0A73BD" stroke="#0A73BD" stroke-width="0.5" stroke-linejoin="miter"/>
<polygon points="470.50,75.00 471.23,77.10 473.45,77.14 471.68,78.48 472.32,80.61 470.50,79.34 468.68,80.61 469.32,78.48 467.55,77.14 469.77,77.10" fill="#0A73BD" stroke="#0A73BD" stroke-width="0.5" stroke-linejoin="miter"/>
<polygon points="465.50,74.60 468.20,78.10 465.50,81.60 462.80,78.10" fill="#0A73BD" stroke="#0A73BD" stroke-width="0.5" stroke-linejoin="miter"/>
<polygon points="468.00,79.80 468.73,81.90 470.95,81.94 469.18,83.28 469.82,85.41 468.00,84.14 466.18,85.41 466.82,83.28 465.05,81.94 467.27,81.90" fill="none" stroke="#1B80B8" stroke-width="0.80" stroke-linejoin="miter"/>
<rect x="464.25" y="88.55" width="4.10" height="4.10" fill="#0A73BD" stroke="#0A73BD" stroke-width="0.5"/>
<line x1="146.84" y1="317.50" x2="146.84" y2="547.00" stroke="#f5f5f5" stroke-width="0.7"/>
<line x1="186.94" y1="317.50" x2="186.94" y2="547.00" stroke="#f5f5f5" stroke-width="0.7"/>
<line x1="215.39" y1="317.50" x2="215.39" y2="547.00" stroke="#f5f5f5" stroke-width="0.7"/>
<line x1="237.46" y1="317.50" x2="237.46" y2="547.00" stroke="#f5f5f5" stroke-width="0.7"/>
<line x1="255.49" y1="317.50" x2="255.49" y2="547.00" stroke="#f5f5f5" stroke-width="0.7"/>
<line x1="270.73" y1="317.50" x2="270.73" y2="547.00" stroke="#f5f5f5" stroke-width="0.7"/>
<line x1="283.93" y1="317.50" x2="283.93" y2="547.00" stroke="#f5f5f5" stroke-width="0.7"/>
<line x1="295.58" y1="317.50" x2="295.58" y2="547.00" stroke="#f5f5f5" stroke-width="0.7"/>
<line x1="306.00" y1="317.50" x2="306.00" y2="547.00" stroke="#ececec" stroke-width="0.7"/>
<line x1="374.54" y1="317.50" x2="374.54" y2="547.00" stroke="#f5f5f5" stroke-width="0.7"/>
<line x1="414.64" y1="317.50" x2="414.64" y2="547.00" stroke="#f5f5f5" stroke-width="0.7"/>
<line x1="443.09" y1="317.50" x2="443.09" y2="547.00" stroke="#f5f5f5" stroke-width="0.7"/>
<line x1="465.16" y1="317.50" x2="465.16" y2="547.00" stroke="#f5f5f5" stroke-width="0.7"/>
<line x1="483.19" y1="317.50" x2="483.19" y2="547.00" stroke="#f5f5f5" stroke-width="0.7"/>
<line x1="498.43" y1="317.50" x2="498.43" y2="547.00" stroke="#f5f5f5" stroke-width="0.7"/>
<line x1="511.63" y1="317.50" x2="511.63" y2="547.00" stroke="#f5f5f5" stroke-width="0.7"/>
<line x1="523.28" y1="317.50" x2="523.28" y2="547.00" stroke="#f5f5f5" stroke-width="0.7"/>
<line x1="78.30" y1="533.18" x2="533.70" y2="533.18" stroke="#f5f5f5" stroke-width="0.7"/>
<line x1="78.30" y1="525.10" x2="533.70" y2="525.10" stroke="#f5f5f5" stroke-width="0.7"/>
<line x1="78.30" y1="519.37" x2="533.70" y2="519.37" stroke="#f5f5f5" stroke-width="0.7"/>
<line x1="78.30" y1="514.92" x2="533.70" y2="514.92" stroke="#f5f5f5" stroke-width="0.7"/>
<line x1="78.30" y1="511.28" x2="533.70" y2="511.28" stroke="#f5f5f5" stroke-width="0.7"/>
<line x1="78.30" y1="508.21" x2="533.70" y2="508.21" stroke="#f5f5f5" stroke-width="0.7"/>
<line x1="78.30" y1="505.55" x2="533.70" y2="505.55" stroke="#f5f5f5" stroke-width="0.7"/>
<line x1="78.30" y1="503.20" x2="533.70" y2="503.20" stroke="#f5f5f5" stroke-width="0.7"/>
<line x1="78.30" y1="501.10" x2="533.70" y2="501.10" stroke="#ececec" stroke-width="0.7"/>
<line x1="78.30" y1="487.28" x2="533.70" y2="487.28" stroke="#f5f5f5" stroke-width="0.7"/>
<line x1="78.30" y1="479.20" x2="533.70" y2="479.20" stroke="#f5f5f5" stroke-width="0.7"/>
<line x1="78.30" y1="473.47" x2="533.70" y2="473.47" stroke="#f5f5f5" stroke-width="0.7"/>
<line x1="78.30" y1="469.02" x2="533.70" y2="469.02" stroke="#f5f5f5" stroke-width="0.7"/>
<line x1="78.30" y1="465.38" x2="533.70" y2="465.38" stroke="#f5f5f5" stroke-width="0.7"/>
<line x1="78.30" y1="462.31" x2="533.70" y2="462.31" stroke="#f5f5f5" stroke-width="0.7"/>
<line x1="78.30" y1="459.65" x2="533.70" y2="459.65" stroke="#f5f5f5" stroke-width="0.7"/>
<line x1="78.30" y1="457.30" x2="533.70" y2="457.30" stroke="#f5f5f5" stroke-width="0.7"/>
<line x1="78.30" y1="455.20" x2="533.70" y2="455.20" stroke="#ececec" stroke-width="0.7"/>
<line x1="78.30" y1="441.38" x2="533.70" y2="441.38" stroke="#f5f5f5" stroke-width="0.7"/>
<line x1="78.30" y1="433.30" x2="533.70" y2="433.30" stroke="#f5f5f5" stroke-width="0.7"/>
<line x1="78.30" y1="427.57" x2="533.70" y2="427.57" stroke="#f5f5f5" stroke-width="0.7"/>
<line x1="78.30" y1="423.12" x2="533.70" y2="423.12" stroke="#f5f5f5" stroke-width="0.7"/>
<line x1="78.30" y1="419.48" x2="533.70" y2="419.48" stroke="#f5f5f5" stroke-width="0.7"/>
<line x1="78.30" y1="416.41" x2="533.70" y2="416.41" stroke="#f5f5f5" stroke-width="0.7"/>
<line x1="78.30" y1="413.75" x2="533.70" y2="413.75" stroke="#f5f5f5" stroke-width="0.7"/>
<line x1="78.30" y1="411.40" x2="533.70" y2="411.40" stroke="#f5f5f5" stroke-width="0.7"/>
<line x1="78.30" y1="409.30" x2="533.70" y2="409.30" stroke="#ececec" stroke-width="0.7"/>
<line x1="78.30" y1="395.48" x2="533.70" y2="395.48" stroke="#f5f5f5" stroke-width="0.7"/>
<line x1="78.30" y1="387.40" x2="533.70" y2="387.40" stroke="#f5f5f5" stroke-width="0.7"/>
<line x1="78.30" y1="381.67" x2="533.70" y2="381.67" stroke="#f5f5f5" stroke-width="0.7"/>
<line x1="78.30" y1="377.22" x2="533.70" y2="377.22" stroke="#f5f5f5" stroke-width="0.7"/>
<line x1="78.30" y1="373.58" x2="533.70" y2="373.58" stroke="#f5f5f5" stroke-width="0.7"/>
<line x1="78.30" y1="370.51" x2="533.70" y2="370.51" stroke="#f5f5f5" stroke-width="0.7"/>
<line x1="78.30" y1="367.85" x2="533.70" y2="367.85" stroke="#f5f5f5" stroke-width="0.7"/>
<line x1="78.30" y1="365.50" x2="533.70" y2="365.50" stroke="#f5f5f5" stroke-width="0.7"/>
<line x1="78.30" y1="363.40" x2="533.70" y2="363.40" stroke="#ececec" stroke-width="0.7"/>
<line x1="78.30" y1="349.58" x2="533.70" y2="349.58" stroke="#f5f5f5" stroke-width="0.7"/>
<line x1="78.30" y1="341.50" x2="533.70" y2="341.50" stroke="#f5f5f5" stroke-width="0.7"/>
<line x1="78.30" y1="335.77" x2="533.70" y2="335.77" stroke="#f5f5f5" stroke-width="0.7"/>
<line x1="78.30" y1="331.32" x2="533.70" y2="331.32" stroke="#f5f5f5" stroke-width="0.7"/>
<line x1="78.30" y1="327.68" x2="533.70" y2="327.68" stroke="#f5f5f5" stroke-width="0.7"/>
<line x1="78.30" y1="324.61" x2="533.70" y2="324.61" stroke="#f5f5f5" stroke-width="0.7"/>
<line x1="78.30" y1="321.95" x2="533.70" y2="321.95" stroke="#f5f5f5" stroke-width="0.7"/>
<line x1="78.30" y1="319.60" x2="533.70" y2="319.60" stroke="#f5f5f5" stroke-width="0.7"/>
<path d="M78.30 547.00v-4.60M78.30 317.50v4.60" stroke="#969696" stroke-width="0.6"/>
<path d="M146.84 547.00v-2.30M146.84 317.50v2.30" stroke="#969696" stroke-width="0.6"/>
<path d="M186.94 547.00v-2.30M186.94 317.50v2.30" stroke="#969696" stroke-width="0.6"/>
<path d="M215.39 547.00v-2.30M215.39 317.50v2.30" stroke="#969696" stroke-width="0.6"/>
<path d="M237.46 547.00v-2.30M237.46 317.50v2.30" stroke="#969696" stroke-width="0.6"/>
<path d="M255.49 547.00v-2.30M255.49 317.50v2.30" stroke="#969696" stroke-width="0.6"/>
<path d="M270.73 547.00v-2.30M270.73 317.50v2.30" stroke="#969696" stroke-width="0.6"/>
<path d="M283.93 547.00v-2.30M283.93 317.50v2.30" stroke="#969696" stroke-width="0.6"/>
<path d="M295.58 547.00v-2.30M295.58 317.50v2.30" stroke="#969696" stroke-width="0.6"/>
<path d="M306.00 547.00v-4.60M306.00 317.50v4.60" stroke="#969696" stroke-width="0.6"/>
<path d="M374.54 547.00v-2.30M374.54 317.50v2.30" stroke="#969696" stroke-width="0.6"/>
<path d="M414.64 547.00v-2.30M414.64 317.50v2.30" stroke="#969696" stroke-width="0.6"/>
<path d="M443.09 547.00v-2.30M443.09 317.50v2.30" stroke="#969696" stroke-width="0.6"/>
<path d="M465.16 547.00v-2.30M465.16 317.50v2.30" stroke="#969696" stroke-width="0.6"/>
<path d="M483.19 547.00v-2.30M483.19 317.50v2.30" stroke="#969696" stroke-width="0.6"/>
<path d="M498.43 547.00v-2.30M498.43 317.50v2.30" stroke="#969696" stroke-width="0.6"/>
<path d="M511.63 547.00v-2.30M511.63 317.50v2.30" stroke="#969696" stroke-width="0.6"/>
<path d="M523.28 547.00v-2.30M523.28 317.50v2.30" stroke="#969696" stroke-width="0.6"/>
<path d="M533.70 547.00v-4.60M533.70 317.50v4.60" stroke="#969696" stroke-width="0.6"/>
<path d="M78.30 547.00h4.60M533.70 547.00h-4.60" stroke="#969696" stroke-width="0.6"/>
<path d="M78.30 533.18h2.30M533.70 533.18h-2.30" stroke="#969696" stroke-width="0.6"/>
<path d="M78.30 525.10h2.30M533.70 525.10h-2.30" stroke="#969696" stroke-width="0.6"/>
<path d="M78.30 519.37h2.30M533.70 519.37h-2.30" stroke="#969696" stroke-width="0.6"/>
<path d="M78.30 514.92h2.30M533.70 514.92h-2.30" stroke="#969696" stroke-width="0.6"/>
<path d="M78.30 511.28h2.30M533.70 511.28h-2.30" stroke="#969696" stroke-width="0.6"/>
<path d="M78.30 508.21h2.30M533.70 508.21h-2.30" stroke="#969696" stroke-width="0.6"/>
<path d="M78.30 505.55h2.30M533.70 505.55h-2.30" stroke="#969696" stroke-width="0.6"/>
<path d="M78.30 503.20h2.30M533.70 503.20h-2.30" stroke="#969696" stroke-width="0.6"/>
<path d="M78.30 501.10h4.60M533.70 501.10h-4.60" stroke="#969696" stroke-width="0.6"/>
<path d="M78.30 487.28h2.30M533.70 487.28h-2.30" stroke="#969696" stroke-width="0.6"/>
<path d="M78.30 479.20h2.30M533.70 479.20h-2.30" stroke="#969696" stroke-width="0.6"/>
<path d="M78.30 473.47h2.30M533.70 473.47h-2.30" stroke="#969696" stroke-width="0.6"/>
<path d="M78.30 469.02h2.30M533.70 469.02h-2.30" stroke="#969696" stroke-width="0.6"/>
<path d="M78.30 465.38h2.30M533.70 465.38h-2.30" stroke="#969696" stroke-width="0.6"/>
<path d="M78.30 462.31h2.30M533.70 462.31h-2.30" stroke="#969696" stroke-width="0.6"/>
<path d="M78.30 459.65h2.30M533.70 459.65h-2.30" stroke="#969696" stroke-width="0.6"/>
<path d="M78.30 457.30h2.30M533.70 457.30h-2.30" stroke="#969696" stroke-width="0.6"/>
<path d="M78.30 455.20h4.60M533.70 455.20h-4.60" stroke="#969696" stroke-width="0.6"/>
<path d="M78.30 441.38h2.30M533.70 441.38h-2.30" stroke="#969696" stroke-width="0.6"/>
<path d="M78.30 433.30h2.30M533.70 433.30h-2.30" stroke="#969696" stroke-width="0.6"/>
<path d="M78.30 427.57h2.30M533.70 427.57h-2.30" stroke="#969696" stroke-width="0.6"/>
<path d="M78.30 423.12h2.30M533.70 423.12h-2.30" stroke="#969696" stroke-width="0.6"/>
<path d="M78.30 419.48h2.30M533.70 419.48h-2.30" stroke="#969696" stroke-width="0.6"/>
<path d="M78.30 416.41h2.30M533.70 416.41h-2.30" stroke="#969696" stroke-width="0.6"/>
<path d="M78.30 413.75h2.30M533.70 413.75h-2.30" stroke="#969696" stroke-width="0.6"/>
<path d="M78.30 411.40h2.30M533.70 411.40h-2.30" stroke="#969696" stroke-width="0.6"/>
<path d="M78.30 409.30h4.60M533.70 409.30h-4.60" stroke="#969696" stroke-width="0.6"/>
<path d="M78.30 395.48h2.30M533.70 395.48h-2.30" stroke="#969696" stroke-width="0.6"/>
<path d="M78.30 387.40h2.30M533.70 387.40h-2.30" stroke="#969696" stroke-width="0.6"/>
<path d="M78.30 381.67h2.30M533.70 381.67h-2.30" stroke="#969696" stroke-width="0.6"/>
<path d="M78.30 377.22h2.30M533.70 377.22h-2.30" stroke="#969696" stroke-width="0.6"/>
<path d="M78.30 373.58h2.30M533.70 373.58h-2.30" stroke="#969696" stroke-width="0.6"/>
<path d="M78.30 370.51h2.30M533.70 370.51h-2.30" stroke="#969696" stroke-width="0.6"/>
<path d="M78.30 367.85h2.30M533.70 367.85h-2.30" stroke="#969696" stroke-width="0.6"/>
<path d="M78.30 365.50h2.30M533.70 365.50h-2.30" stroke="#969696" stroke-width="0.6"/>
<path d="M78.30 363.40h4.60M533.70 363.40h-4.60" stroke="#969696" stroke-width="0.6"/>
<path d="M78.30 349.58h2.30M533.70 349.58h-2.30" stroke="#969696" stroke-width="0.6"/>
<path d="M78.30 341.50h2.30M533.70 341.50h-2.30" stroke="#969696" stroke-width="0.6"/>
<path d="M78.30 335.77h2.30M533.70 335.77h-2.30" stroke="#969696" stroke-width="0.6"/>
<path d="M78.30 331.32h2.30M533.70 331.32h-2.30" stroke="#969696" stroke-width="0.6"/>
<path d="M78.30 327.68h2.30M533.70 327.68h-2.30" stroke="#969696" stroke-width="0.6"/>
<path d="M78.30 324.61h2.30M533.70 324.61h-2.30" stroke="#969696" stroke-width="0.6"/>
<path d="M78.30 321.95h2.30M533.70 321.95h-2.30" stroke="#969696" stroke-width="0.6"/>
<path d="M78.30 319.60h2.30M533.70 319.60h-2.30" stroke="#969696" stroke-width="0.6"/>
<path d="M78.30 317.50h4.60M533.70 317.50h-4.60" stroke="#969696" stroke-width="0.6"/>
<rect x="78.30" y="317.50" width="455.40" height="229.50" fill="none" stroke="#a0a0a0" stroke-width="0.7"/>
<line x1="78.30" y1="409.30" x2="533.70" y2="317.50" stroke="#111" stroke-width="1.4" stroke-dasharray="3.5 0.9 0.8 0.9"/>
<line x1="78.30" y1="455.20" x2="533.70" y2="317.50" stroke="#111" stroke-width="1.4" stroke-dasharray="3.5 0.9 0.8 0.9"/>
<path d="M158.65 449.65L162.75 453.75M158.65 453.75L162.75 449.65" stroke="#E4561B" stroke-width="0.72" fill="none"/>
<path d="M181.25 439.75L185.35 443.85M181.25 443.85L185.35 439.75" stroke="#E4561B" stroke-width="0.72" fill="none"/>
<path d="M184.25 440.95L188.35 445.05M184.25 445.05L188.35 440.95" stroke="#E4561B" stroke-width="0.72" fill="none"/>
<path d="M188.15 436.55L192.25 440.65M188.15 440.65L192.25 436.55" stroke="#E4561B" stroke-width="0.72" fill="none"/>
<path d="M191.05 439.75L195.15 443.85M191.05 443.85L195.15 439.75" stroke="#E4561B" stroke-width="0.72" fill="none"/>
<path d="M196.85 433.65L200.95 437.75M196.85 437.75L200.95 433.65" stroke="#E4561B" stroke-width="0.72" fill="none"/>
<path d="M199.75 433.65L203.85 437.75M199.75 437.75L203.85 433.65" stroke="#E4561B" stroke-width="0.72" fill="none"/>
<path d="M202.65 432.55L206.75 436.65M202.65 436.65L206.75 432.55" stroke="#E4561B" stroke-width="0.72" fill="none"/>
<path d="M211.45 429.35L215.55 433.45M211.45 433.45L215.55 429.35" stroke="#E4561B" stroke-width="0.72" fill="none"/>
<path d="M214.35 428.55L218.45 432.65M214.35 432.65L218.45 428.55" stroke="#E4561B" stroke-width="0.72" fill="none"/>
<path d="M217.25 427.85L221.35 431.95M217.25 431.95L221.35 427.85" stroke="#E4561B" stroke-width="0.72" fill="none"/>
<path d="M244.75 417.65L248.85 421.75M244.75 421.75L248.85 417.65" stroke="#E4561B" stroke-width="0.72" fill="none"/>
<path d="M229.35 422.05L233.45 426.15M229.35 426.15L233.45 422.05" stroke="#E4561B" stroke-width="0.72" fill="none"/>
<path d="M220.35 424.25L224.45 428.35M220.35 428.35L224.45 424.25" stroke="#E4561B" stroke-width="0.72" fill="none"/>
<polygon points="179.80,453.30 185.50,450.10 185.50,456.50" fill="none" stroke="#8E1FA0" stroke-width="0.80" stroke-linejoin="miter"/>
<rect x="235.15" y="406.35" width="4.10" height="4.10" fill="#FFA500" stroke="#FFA500" stroke-width="0.5"/>
<polygon points="255.50,404.85 256.41,406.22 258.05,406.32 257.33,407.80 258.05,409.28 256.41,409.38 255.50,410.75 254.59,409.38 252.95,409.28 253.67,407.80 252.95,406.32 254.59,406.22" fill="none" stroke="#E4561B" stroke-width="0.80" stroke-linejoin="miter"/>
<polygon points="277.30,402.95 278.21,404.32 279.85,404.42 279.13,405.90 279.85,407.38 278.21,407.48 277.30,408.85 276.39,407.48 274.75,407.38 275.47,405.90 274.75,404.42 276.39,404.32" fill="none" stroke="#22B4EE" stroke-width="0.80" stroke-linejoin="miter"/>
<polygon points="277.30,406.55 278.21,407.92 279.85,408.02 279.13,409.50 279.85,410.98 278.21,411.08 277.30,412.45 276.39,411.08 274.75,410.98 275.47,409.50 274.75,408.02 276.39,407.92" fill="none" stroke="#22B4EE" stroke-width="0.80" stroke-linejoin="miter"/>
<polygon points="284.00,391.65 284.91,393.02 286.55,393.12 285.83,394.60 286.55,396.08 284.91,396.18 284.00,397.55 283.09,396.18 281.45,396.08 282.17,394.60 281.45,393.12 283.09,393.02" fill="none" stroke="#E4561B" stroke-width="0.80" stroke-linejoin="miter"/>
<polygon points="237.20,419.25 238.11,420.62 239.75,420.72 239.03,422.20 239.75,423.68 238.11,423.78 237.20,425.15 236.29,423.78 234.65,423.68 235.37,422.20 234.65,420.72 236.29,420.62" fill="none" stroke="#22B4EE" stroke-width="0.80" stroke-linejoin="miter"/>
<polygon points="237.20,425.75 238.11,427.12 239.75,427.22 239.03,428.70 239.75,430.18 238.11,430.28 237.20,431.65 236.29,430.28 234.65,430.18 235.37,428.70 234.65,427.22 236.29,427.12" fill="none" stroke="#22B4EE" stroke-width="0.80" stroke-linejoin="miter"/>
<polygon points="229.90,431.40 235.60,428.20 235.60,434.60" fill="none" stroke="#8E1FA0" stroke-width="0.80" stroke-linejoin="miter"/>
<polygon points="221.00,453.30 226.70,450.10 226.70,456.50" fill="#8E1FA0" stroke="#8E1FA0" stroke-width="0.5" stroke-linejoin="miter"/>
<path d="M247.55 459.55L251.65 463.65M247.55 463.65L251.65 459.55" stroke="#8E1FA0" stroke-width="0.72" fill="none"/>
<path d="M192.95 489.55L197.05 493.65M192.95 493.65L197.05 489.55" stroke="#8E1FA0" stroke-width="0.72" fill="none"/>
<rect x="294.85" y="386.55" width="4.10" height="4.10" fill="#FFA500" stroke="#FFA500" stroke-width="0.5"/>
<polygon points="305.80,380.45 306.71,381.82 308.35,381.92 307.63,383.40 308.35,384.88 306.71,384.98 305.80,386.35 304.89,384.98 303.25,384.88 303.97,383.40 303.25,381.92 304.89,381.82" fill="none" stroke="#E4561B" stroke-width="0.80" stroke-linejoin="miter"/>
<polygon points="323.90,373.65 324.81,375.02 326.45,375.12 325.73,376.60 326.45,378.08 324.81,378.18 323.90,379.55 322.99,378.18 321.35,378.08 322.07,376.60 321.35,375.12 322.99,375.02" fill="none" stroke="#E4561B" stroke-width="0.80" stroke-linejoin="miter"/>
<rect x="313.05" y="385.25" width="4.10" height="4.10" fill="#0A73BD" stroke="#0A73BD" stroke-width="0.5"/>
<rect x="330.05" y="384.15" width="4.10" height="4.10" fill="#0A73BD" stroke="#0A73BD" stroke-width="0.5"/>
<polygon points="328.00,384.35 328.91,385.72 330.55,385.82 329.83,387.30 330.55,388.78 328.91,388.88 328.00,390.25 327.09,388.88 325.45,388.78 326.17,387.30 325.45,385.82 327.09,385.72" fill="none" stroke="#1B80B8" stroke-width="0.80" stroke-linejoin="miter"/>
<polygon points="327.40,387.05 328.31,388.42 329.95,388.52 329.23,390.00 329.95,391.48 328.31,391.58 327.40,392.95 326.49,391.58 324.85,391.48 325.57,390.00 324.85,388.52 326.49,388.42" fill="none" stroke="#1B80B8" stroke-width="0.80" stroke-linejoin="miter"/>
<polygon points="306.20,391.45 307.11,392.82 308.75,392.92 308.03,394.40 308.75,395.88 307.11,395.98 306.20,397.35 305.29,395.98 303.65,395.88 304.37,394.40 303.65,392.92 305.29,392.82" fill="none" stroke="#1B80B8" stroke-width="0.80" stroke-linejoin="miter"/>
<polygon points="305.60,397.35 306.51,398.72 308.15,398.82 307.43,400.30 308.15,401.78 306.51,401.88 305.60,403.25 304.69,401.88 303.05,401.78 303.77,400.30 303.05,398.82 304.69,398.72" fill="none" stroke="#1B80B8" stroke-width="0.80" stroke-linejoin="miter"/>
<polygon points="306.60,399.30 312.30,396.10 312.30,402.50" fill="none" stroke="#8E1FA0" stroke-width="0.80" stroke-linejoin="miter"/>
<polygon points="335.40,394.10 338.10,397.60 335.40,401.10 332.70,397.60" fill="none" stroke="#6DA823" stroke-width="0.80" stroke-linejoin="miter"/>
<polygon points="293.60,411.80 296.30,415.30 293.60,418.80 290.90,415.30" fill="none" stroke="#6DA823" stroke-width="0.80" stroke-linejoin="miter"/>
<polygon points="296.80,415.30 302.50,412.10 302.50,418.50" fill="#8E1FA0" stroke="#8E1FA0" stroke-width="0.5" stroke-linejoin="miter"/>
<path d="M303.95 408.65L308.05 412.75M303.95 412.75L308.05 408.65" stroke="#1B80B8" stroke-width="0.72" fill="none"/>
<circle cx="314.90" cy="412.20" r="2.60" fill="#0A73BD" stroke="#0A73BD" stroke-width="0.5"/>
<rect x="310.80" y="414.70" width="4.40" height="4.40" fill="none" stroke="#1B80B8" stroke-width="0.80"/>
<rect x="313.20" y="414.40" width="4.40" height="4.40" fill="none" stroke="#1B80B8" stroke-width="0.80"/>
<path d="M324.25 418.85L328.35 422.95M324.25 422.95L328.35 418.85" stroke="#8E1FA0" stroke-width="0.72" fill="none"/>
<polygon points="345.90,363.55 346.81,364.92 348.45,365.02 347.73,366.50 348.45,367.98 346.81,368.08 345.90,369.45 344.99,368.08 343.35,367.98 344.07,366.50 343.35,365.02 344.99,364.92" fill="none" stroke="#E4561B" stroke-width="0.80" stroke-linejoin="miter"/>
<rect x="361.85" y="366.85" width="4.10" height="4.10" fill="#FFA500" stroke="#FFA500" stroke-width="0.5"/>
<circle cx="381.70" cy="370.90" r="2.70" fill="none" stroke="#18E61C" stroke-width="0.80"/>
<rect x="389.15" y="369.45" width="4.10" height="4.10" fill="#0A73BD" stroke="#0A73BD" stroke-width="0.5"/>
<polygon points="374.30,368.55 375.21,369.92 376.85,370.02 376.13,371.50 376.85,372.98 375.21,373.08 374.30,374.45 373.39,373.08 371.75,372.98 372.47,371.50 371.75,370.02 373.39,369.92" fill="none" stroke="#1B80B8" stroke-width="0.80" stroke-linejoin="miter"/>
<polygon points="374.00,371.75 374.91,373.12 376.55,373.22 375.83,374.70 376.55,376.18 374.91,376.28 374.00,377.65 373.09,376.28 371.45,376.18 372.17,374.70 371.45,373.22 373.09,373.12" fill="none" stroke="#1B80B8" stroke-width="0.80" stroke-linejoin="miter"/>
<polygon points="345.90,377.55 346.81,378.92 348.45,379.02 347.73,380.50 348.45,381.98 346.81,382.08 345.90,383.45 344.99,382.08 343.35,381.98 344.07,380.50 343.35,379.02 344.99,378.92" fill="none" stroke="#1B80B8" stroke-width="0.80" stroke-linejoin="miter"/>
<polygon points="345.90,381.55 346.81,382.92 348.45,383.02 347.73,384.50 348.45,385.98 346.81,386.08 345.90,387.45 344.99,386.08 343.35,385.98 344.07,384.50 343.35,383.02 344.99,382.92" fill="none" stroke="#1B80B8" stroke-width="0.80" stroke-linejoin="miter"/>
<circle cx="365.90" cy="380.20" r="2.70" fill="none" stroke="#18E61C" stroke-width="0.80"/>
<polygon points="378.60,374.50 381.30,378.00 378.60,381.50 375.90,378.00" fill="none" stroke="#6DA823" stroke-width="0.80" stroke-linejoin="miter"/>
<polygon points="374.80,376.80 371.60,382.50 378.00,382.50" fill="#0A73BD" stroke="#0A73BD" stroke-width="0.5" stroke-linejoin="miter"/>
<polygon points="388.40,379.50 385.20,385.20 391.60,385.20" fill="#0A73BD" stroke="#0A73BD" stroke-width="0.5" stroke-linejoin="miter"/>
<circle cx="382.20" cy="383.40" r="2.60" fill="#0A73BD" stroke="#0A73BD" stroke-width="0.5"/>
<polygon points="381.30,382.80 378.10,388.50 384.50,388.50" fill="#0A73BD" stroke="#0A73BD" stroke-width="0.5" stroke-linejoin="miter"/>
<polygon points="361.00,382.70 363.70,386.20 361.00,389.70 358.30,386.20" fill="none" stroke="#6DA823" stroke-width="0.80" stroke-linejoin="miter"/>
<rect x="371.50" y="384.80" width="4.40" height="4.40" fill="none" stroke="#1B80B8" stroke-width="0.80"/>
<circle cx="375.90" cy="388.90" r="2.70" fill="none" stroke="#1B80B8" stroke-width="0.80"/>
<rect x="384.90" y="385.90" width="4.40" height="4.40" fill="none" stroke="#1B80B8" stroke-width="0.80"/>
<path d="M390.00 395.40L395.20 395.40M392.60 392.80L392.60 398.00" stroke="#1B80B8" stroke-width="0.72" fill="none"/>
<circle cx="350.30" cy="400.30" r="2.60" fill="#0A73BD" stroke="#0A73BD" stroke-width="0.5"/>
<rect x="366.10" y="397.10" width="4.40" height="4.40" fill="none" stroke="#1B80B8" stroke-width="0.80"/>
<path d="M370.00 398.70L375.20 398.70M372.60 396.10L372.60 401.30" stroke="#1B80B8" stroke-width="0.72" fill="none"/>
<polygon points="387.50,399.15 388.41,400.52 390.05,400.62 389.33,402.10 390.05,403.58 388.41,403.68 387.50,405.05 386.59,403.68 384.95,403.58 385.67,402.10 384.95,400.62 386.59,400.52" fill="#0A73BD" stroke="#0A73BD" stroke-width="0.5" stroke-linejoin="miter"/>
<polygon points="396.50,387.05 397.41,388.42 399.05,388.52 398.33,390.00 399.05,391.48 397.41,391.58 396.50,392.95 395.59,391.58 393.95,391.48 394.67,390.00 393.95,388.52 395.59,388.42" fill="#B5122E" stroke="#B5122E" stroke-width="0.5" stroke-linejoin="miter"/>
<polygon points="359.50,405.60 360.23,407.70 362.45,407.74 360.68,409.08 361.32,411.21 359.50,409.94 357.68,411.21 358.32,409.08 356.55,407.74 358.77,407.70" fill="none" stroke="#1B80B8" stroke-width="0.80" stroke-linejoin="miter"/>
<rect x="344.30" y="413.60" width="4.40" height="4.40" fill="none" stroke="#1B80B8" stroke-width="0.80"/>
<rect x="375.45" y="404.75" width="4.10" height="4.10" fill="#0A73BD" stroke="#0A73BD" stroke-width="0.5"/>
<polygon points="384.60,403.05 385.51,404.42 387.15,404.52 386.43,406.00 387.15,407.48 385.51,407.58 384.60,408.95 383.69,407.58 382.05,407.48 382.77,406.00 382.05,404.52 383.69,404.42" fill="#0A73BD" stroke="#0A73BD" stroke-width="0.5" stroke-linejoin="miter"/>
<polygon points="407.60,360.95 408.51,362.32 410.15,362.42 409.43,363.90 410.15,365.38 408.51,365.48 407.60,366.85 406.69,365.48 405.05,365.38 405.77,363.90 405.05,362.42 406.69,362.32" fill="none" stroke="#18E61C" stroke-width="0.80" stroke-linejoin="miter"/>
<path d="M412.45 362.35L416.55 366.45M412.45 366.45L416.55 362.35" stroke="#1B80B8" stroke-width="0.72" fill="none"/>
<circle cx="421.30" cy="364.00" r="2.60" fill="#0A73BD" stroke="#0A73BD" stroke-width="0.5"/>
<rect x="425.05" y="358.65" width="4.10" height="4.10" fill="#0A73BD" stroke="#0A73BD" stroke-width="0.5"/>
<rect x="432.35" y="359.15" width="4.10" height="4.10" fill="#0A73BD" stroke="#0A73BD" stroke-width="0.5"/>
<polygon points="440.30,364.90 434.60,361.70 434.60,368.10" fill="none" stroke="#1B80B8" stroke-width="0.80" stroke-linejoin="miter"/>
<polygon points="447.00,363.20 441.30,360.00 441.30,366.40" fill="none" stroke="#1B80B8" stroke-width="0.80" stroke-linejoin="miter"/>
<path d="M443.20 365.70L448.40 365.70M445.80 363.10L445.80 368.30" stroke="#1B80B8" stroke-width="0.72" fill="none"/>
<rect x="398.35" y="368.85" width="4.10" height="4.10" fill="#0A73BD" stroke="#0A73BD" stroke-width="0.5"/>
<rect x="400.45" y="369.45" width="4.10" height="4.10" fill="#0A73BD" stroke="#0A73BD" stroke-width="0.5"/>
<circle cx="409.60" cy="370.90" r="2.60" fill="#0A73BD" stroke="#0A73BD" stroke-width="0.5"/>
<polygon points="408.00,369.70 404.80,375.40 411.20,375.40" fill="#0A73BD" stroke="#0A73BD" stroke-width="0.5" stroke-linejoin="miter"/>
<polygon points="415.40,372.05 416.31,373.42 417.95,373.52 417.23,375.00 417.95,376.48 416.31,376.58 415.40,377.95 414.49,376.58 412.85,376.48 413.57,375.00 412.85,373.52 414.49,373.42" fill="none" stroke="#1B80B8" stroke-width="0.80" stroke-linejoin="miter"/>
<polygon points="422.20,368.90 422.93,371.00 425.15,371.04 423.38,372.38 424.02,374.51 422.20,373.24 420.38,374.51 421.02,372.38 419.25,371.04 421.47,371.00" fill="none" stroke="#1B80B8" stroke-width="0.80" stroke-linejoin="miter"/>
<rect x="424.90" y="367.10" width="4.40" height="4.40" fill="none" stroke="#1B80B8" stroke-width="0.80"/>
<rect x="432.00" y="368.20" width="4.40" height="4.40" fill="none" stroke="#1B80B8" stroke-width="0.80"/>
<polygon points="428.80,374.20 423.10,371.00 423.10,377.40" fill="none" stroke="#1B80B8" stroke-width="0.80" stroke-linejoin="miter"/>
<path d="M429.90 373.60L435.10 373.60M432.50 371.00L432.50 376.20" stroke="#1B80B8" stroke-width="0.72" fill="none"/>
<polygon points="429.40,384.20 423.70,381.00 423.70,387.40" fill="#0A73BD" stroke="#0A73BD" stroke-width="0.5" stroke-linejoin="miter"/>
<polygon points="437.00,386.20 431.30,383.00 431.30,389.40" fill="#0A73BD" stroke="#0A73BD" stroke-width="0.5" stroke-linejoin="miter"/>
<rect x="446.95" y="385.65" width="4.10" height="4.10" fill="#0A73BD" stroke="#0A73BD" stroke-width="0.5"/>
<rect x="398.40" y="383.10" width="4.40" height="4.40" fill="none" stroke="#1B80B8" stroke-width="0.80"/>
<rect x="405.20" y="383.10" width="4.40" height="4.40" fill="none" stroke="#1B80B8" stroke-width="0.80"/>
<polygon points="411.30,389.75 412.21,391.12 413.85,391.22 413.13,392.70 413.85,394.18 412.21,394.28 411.30,395.65 410.39,394.28 408.75,394.18 409.47,392.70 408.75,391.22 410.39,391.12" fill="#0A73BD" stroke="#0A73BD" stroke-width="0.5" stroke-linejoin="miter"/>
<polygon points="411.30,392.45 412.21,393.82 413.85,393.92 413.13,395.40 413.85,396.88 412.21,396.98 411.30,398.35 410.39,396.98 408.75,396.88 409.47,395.40 408.75,393.92 410.39,393.82" fill="#0A73BD" stroke="#0A73BD" stroke-width="0.5" stroke-linejoin="miter"/>
<rect x="409.25" y="396.65" width="4.10" height="4.10" fill="#0A73BD" stroke="#0A73BD" stroke-width="0.5"/>
<rect x="401.55" y="398.55" width="4.10" height="4.10" fill="#0A73BD" stroke="#0A73BD" stroke-width="0.5"/>
<polygon points="435.30,333.65 436.21,335.02 437.85,335.12 437.13,336.60 437.85,338.08 436.21,338.18 435.30,339.55 434.39,338.18 432.75,338.08 433.47,336.60 432.75,335.12 434.39,335.02" fill="#18E61C" stroke="#18E61C" stroke-width="0.5" stroke-linejoin="miter"/>
<rect x="430.45" y="347.35" width="4.10" height="4.10" fill="#FFA500" stroke="#FFA500" stroke-width="0.5"/>
<circle cx="425.10" cy="350.90" r="2.70" fill="none" stroke="#18E61C" stroke-width="0.80"/>
<circle cx="410.00" cy="355.40" r="2.70" fill="none" stroke="#18E61C" stroke-width="0.80"/>
<polygon points="388.20,354.15 389.11,355.52 390.75,355.62 390.03,357.10 390.75,358.58 389.11,358.68 388.20,360.05 387.29,358.68 385.65,358.58 386.37,357.10 385.65,355.62 387.29,355.52" fill="#18E61C" stroke="#18E61C" stroke-width="0.5" stroke-linejoin="miter"/>
<polygon points="440.60,348.60 443.30,352.10 440.60,355.60 437.90,352.10" fill="#0A73BD" stroke="#0A73BD" stroke-width="0.5" stroke-linejoin="miter"/>
<polygon points="447.50,347.40 448.23,349.50 450.45,349.54 448.68,350.88 449.32,353.01 447.50,351.74 445.68,353.01 446.32,350.88 444.55,349.54 446.77,349.50" fill="#0A73BD" stroke="#0A73BD" stroke-width="0.5" stroke-linejoin="miter"/>
<polygon points="432.50,354.65 433.41,356.02 435.05,356.12 434.33,357.60 435.05,359.08 433.41,359.18 432.50,360.55 431.59,359.18 429.95,359.08 430.67,357.60 429.95,356.12 431.59,356.02" fill="#0A73BD" stroke="#0A73BD" stroke-width="0.5" stroke-linejoin="miter"/>
<polygon points="448.40,359.30 442.70,356.10 442.70,362.50" fill="#0A73BD" stroke="#0A73BD" stroke-width="0.5" stroke-linejoin="miter"/>
<polygon points="407.40,355.25 408.31,356.62 409.95,356.72 409.23,358.20 409.95,359.68 408.31,359.78 407.40,361.15 406.49,359.78 404.85,359.68 405.57,358.20 404.85,356.72 406.49,356.62" fill="none" stroke="#1B80B8" stroke-width="0.80" stroke-linejoin="miter"/>
<rect x="463.25" y="336.95" width="4.10" height="4.10" fill="#FFA500" stroke="#FFA500" stroke-width="0.5"/>
<rect x="472.35" y="334.75" width="4.10" height="4.10" fill="#FFA500" stroke="#FFA500" stroke-width="0.5"/>
<polygon points="477.60,334.80 480.30,338.30 477.60,341.80 474.90,338.30" fill="#0A73BD" stroke="#0A73BD" stroke-width="0.5" stroke-linejoin="miter"/>
<polygon points="477.10,339.90 477.83,342.00 480.05,342.04 478.28,343.38 478.92,345.51 477.10,344.24 475.28,345.51 475.92,343.38 474.15,342.04 476.37,342.00" fill="#0A73BD" stroke="#0A73BD" stroke-width="0.5" stroke-linejoin="miter"/>
<polygon points="479.80,342.10 480.53,344.20 482.75,344.24 480.98,345.58 481.62,347.71 479.80,346.44 477.98,347.71 478.62,345.58 476.85,344.24 479.07,344.20" fill="none" stroke="#1B80B8" stroke-width="0.80" stroke-linejoin="miter"/>
<polygon points="464.50,340.00 467.20,343.50 464.50,347.00 461.80,343.50" fill="#0A73BD" stroke="#0A73BD" stroke-width="0.5" stroke-linejoin="miter"/>
<polygon points="461.30,342.20 464.00,345.70 461.30,349.20 458.60,345.70" fill="#0A73BD" stroke="#0A73BD" stroke-width="0.5" stroke-linejoin="miter"/>
<polygon points="469.40,343.20 470.13,345.30 472.35,345.34 470.58,346.68 471.22,348.81 469.40,347.54 467.58,348.81 468.22,346.68 466.45,345.34 468.67,345.30" fill="#0A73BD" stroke="#0A73BD" stroke-width="0.5" stroke-linejoin="miter"/>
<polygon points="455.80,343.90 458.50,347.40 455.80,350.90 453.10,347.40" fill="#0A73BD" stroke="#0A73BD" stroke-width="0.5" stroke-linejoin="miter"/>
<polygon points="459.60,347.10 462.30,350.60 459.60,354.10 456.90,350.60" fill="#0A73BD" stroke="#0A73BD" stroke-width="0.5" stroke-linejoin="miter"/>
<polygon points="450.40,345.90 451.13,348.00 453.35,348.04 451.58,349.38 452.22,351.51 450.40,350.24 448.58,351.51 449.22,349.38 447.45,348.04 449.67,348.00" fill="#0A73BD" stroke="#0A73BD" stroke-width="0.5" stroke-linejoin="miter"/>
<polygon points="461.90,353.90 456.20,350.70 456.20,357.10" fill="none" stroke="#1B80B8" stroke-width="0.80" stroke-linejoin="miter"/>
<polygon points="466.50,353.65 467.41,355.02 469.05,355.12 468.33,356.60 469.05,358.08 467.41,358.18 466.50,359.55 465.59,358.18 463.95,358.08 464.67,356.60 463.95,355.12 465.59,355.02" fill="none" stroke="#1B80B8" stroke-width="0.80" stroke-linejoin="miter"/>
<polygon points="447.80,407.05 448.71,408.42 450.35,408.52 449.63,410.00 450.35,411.48 448.71,411.58 447.80,412.95 446.89,411.58 445.25,411.48 445.97,410.00 445.25,408.52 446.89,408.42" fill="#0A73BD" stroke="#0A73BD" stroke-width="0.5" stroke-linejoin="miter"/>
<rect x="77.40" y="18.50" width="150.10" height="45.90" fill="#fff" stroke="#808080" stroke-width="0.7"/><rect x="86.20" y="22.70" width="4.8" height="4.8" fill="#0072BD"/><text x="99.70" y="28.30" font-size="8.7" fill="#222">Ti-6Al-4V</text><rect x="86.20" y="33.80" width="4.8" height="4.8" fill="#FA4A0A"/><text x="99.70" y="39.40" font-size="8.7" fill="#222">316L</text><rect x="86.20" y="44.90" width="4.8" height="4.8" fill="#FFA500"/><text x="99.70" y="50.50" font-size="8.7" fill="#222">CoCr</text><rect x="86.20" y="56.00" width="4.8" height="4.8" fill="#8E1FA0"/><text x="99.70" y="61.60" font-size="8.7" fill="#222">Inconel 625</text><rect x="155.20" y="22.70" width="4.8" height="4.8" fill="#6DA823"/><text x="168.60" y="28.30" font-size="8.7" fill="#222">Maraging steel</text><rect x="155.20" y="33.80" width="4.8" height="4.8" fill="#22B4EE"/><text x="168.60" y="39.40" font-size="8.7" fill="#222">AlSi12Mg</text><rect x="155.20" y="44.90" width="4.8" height="4.8" fill="#18E61C"/><text x="168.60" y="50.50" font-size="8.7" fill="#222">pure metals</text>
<rect x="81.50" y="318.50" width="149.10" height="47.40" fill="#fff" stroke="#808080" stroke-width="0.7"/><rect x="90.70" y="324.80" width="4.8" height="4.8" fill="#0072BD"/><text x="104.20" y="330.40" font-size="8.7" fill="#222">Ti-6Al-4V</text><rect x="90.70" y="335.50" width="4.8" height="4.8" fill="#FA4A0A"/><text x="104.20" y="341.10" font-size="8.7" fill="#222">316L</text><rect x="90.70" y="346.20" width="4.8" height="4.8" fill="#FFA500"/><text x="104.20" y="351.80" font-size="8.7" fill="#222">CoCr</text><rect x="90.70" y="356.90" width="4.8" height="4.8" fill="#8E1FA0"/><text x="104.20" y="362.50" font-size="8.7" fill="#222">Inconel 625</text><rect x="158.50" y="324.80" width="4.8" height="4.8" fill="#6DA823"/><text x="171.60" y="330.40" font-size="8.7" fill="#222">Maraging steel</text><rect x="158.50" y="335.50" width="4.8" height="4.8" fill="#22B4EE"/><text x="171.60" y="341.10" font-size="8.7" fill="#222">AlSi12Mg</text><rect x="158.50" y="346.20" width="4.8" height="4.8" fill="#B5122E"/><text x="171.60" y="351.80" font-size="8.7" fill="#222">NiTi</text><rect x="158.50" y="356.90" width="4.8" height="4.8" fill="#18E61C"/><text x="171.60" y="362.50" font-size="8.7" fill="#222">pure metals</text>
<rect x="348.30" y="151.90" width="183.20" height="93.50" fill="#fff" stroke="#808080" stroke-width="0.7"/><rect x="356.21" y="155.41" width="3.77" height="3.77" fill="#000" stroke="#000" stroke-width="0.5"/><text x="367.30" y="159.80" font-size="7.25" fill="#1a1a1a">Cubic</text><rect x="356.08" y="164.48" width="4.05" height="4.05" fill="none" stroke="#555" stroke-width="0.60"/><text x="367.30" y="169.00" font-size="7.25" fill="#1a1a1a">Diamond</text><polygon points="358.10,172.57 355.16,177.82 361.04,177.82" fill="#000" stroke="#000" stroke-width="0.5" stroke-linejoin="miter"/><text x="367.30" y="178.20" font-size="7.25" fill="#1a1a1a">Truncated cubeoctahedron</text><circle cx="358.10" cy="184.90" r="2.39" fill="#000" stroke="#000" stroke-width="0.5"/><text x="367.30" y="187.40" font-size="7.25" fill="#1a1a1a">Rhombic dodecahedron</text><path d="M355.71 194.10L360.49 194.10M358.10 191.71L358.10 196.49" stroke="#555" stroke-width="0.54" fill="none"/><text x="367.30" y="196.60" font-size="7.25" fill="#1a1a1a">G7</text><circle cx="358.10" cy="203.30" r="2.48" fill="none" stroke="#555" stroke-width="0.60"/><text x="367.30" y="205.80" font-size="7.25" fill="#1a1a1a">Dodecahedron</text><path d="M356.21 210.61L359.99 214.39M356.21 214.39L359.99 210.61" stroke="#555" stroke-width="0.54" fill="none"/><text x="367.30" y="215.00" font-size="7.25" fill="#1a1a1a">BCC</text><polygon points="354.97,221.70 360.22,218.76 360.22,224.64" fill="#000" stroke="#000" stroke-width="0.5" stroke-linejoin="miter"/><text x="367.30" y="224.20" font-size="7.25" fill="#1a1a1a">FCC</text><polygon points="354.97,230.90 360.22,227.96 360.22,233.84" fill="none" stroke="#555" stroke-width="0.60" stroke-linejoin="miter"/><text x="367.30" y="233.40" font-size="7.25" fill="#1a1a1a">FCCZ</text><polygon points="361.23,240.10 355.98,237.16 355.98,243.04" fill="#000" stroke="#000" stroke-width="0.5" stroke-linejoin="miter"/><text x="367.30" y="242.60" font-size="7.25" fill="#1a1a1a">Octet truss</text><polygon points="468.33,157.30 463.08,154.36 463.08,160.24" fill="none" stroke="#555" stroke-width="0.60" stroke-linejoin="miter"/><text x="473.50" y="159.80" font-size="7.25" fill="#1a1a1a">Tetrahedron</text><polygon points="465.20,164.14 465.93,165.23 467.24,165.32 466.66,166.50 467.24,167.68 465.93,167.77 465.20,168.86 464.47,167.77 463.16,167.68 463.74,166.50 463.16,165.32 464.47,165.23" fill="#000" stroke="#000" stroke-width="0.5" stroke-linejoin="miter"/><text x="473.50" y="169.00" font-size="7.25" fill="#1a1a1a">Octahedron</text><polygon points="465.20,173.34 465.93,174.43 467.24,174.52 466.66,175.70 467.24,176.88 465.93,176.97 465.20,178.06 464.47,176.97 463.16,176.88 463.74,175.70 463.16,174.52 464.47,174.43" fill="none" stroke="#555" stroke-width="0.60" stroke-linejoin="miter"/><text x="473.50" y="178.20" font-size="7.25" fill="#1a1a1a">Optimized truss</text><polygon points="465.20,182.42 465.78,184.10 467.56,184.13 466.14,185.21 466.66,186.91 465.20,185.89 463.74,186.91 464.26,185.21 462.84,184.13 464.62,184.10" fill="#000" stroke="#000" stroke-width="0.5" stroke-linejoin="miter"/><text x="473.50" y="187.40" font-size="7.25" fill="#1a1a1a">Sheet gyroid</text><polygon points="465.20,191.62 465.78,193.30 467.56,193.33 466.14,194.41 466.66,196.11 465.20,195.09 463.74,196.11 464.26,194.41 462.84,193.33 464.62,193.30" fill="none" stroke="#555" stroke-width="0.60" stroke-linejoin="miter"/><text x="473.50" y="196.60" font-size="7.25" fill="#1a1a1a">Cellular gyroid</text><polygon points="465.20,200.08 467.68,203.30 465.20,206.52 462.72,203.30" fill="#000" stroke="#000" stroke-width="0.5" stroke-linejoin="miter"/><text x="473.50" y="205.80" font-size="7.25" fill="#1a1a1a">Sheet diamond</text><polygon points="465.20,209.28 467.68,212.50 465.20,215.72 462.72,212.50" fill="none" stroke="#555" stroke-width="0.60" stroke-linejoin="miter"/><text x="473.50" y="215.00" font-size="7.25" fill="#1a1a1a"> Cellular diamond</text><polygon points="465.20,224.83 462.26,219.58 468.14,219.58" fill="#000" stroke="#000" stroke-width="0.5" stroke-linejoin="miter"/><text x="473.50" y="224.20" font-size="7.25" fill="#1a1a1a">Sheet IWP</text><polygon points="465.20,234.03 462.26,228.78 468.14,228.78" fill="none" stroke="#555" stroke-width="0.60" stroke-linejoin="miter"/><text x="473.50" y="233.40" font-size="7.25" fill="#1a1a1a">Cellular IWP</text>
<rect x="347.80" y="451.90" width="179.60" height="92.60" fill="#fff" stroke="#808080" stroke-width="0.7"/><rect x="355.21" y="455.91" width="3.77" height="3.77" fill="#000" stroke="#000" stroke-width="0.5"/><text x="366.40" y="460.30" font-size="7.12" fill="#1a1a1a">Cubic</text><rect x="355.08" y="464.80" width="4.05" height="4.05" fill="none" stroke="#555" stroke-width="0.60"/><text x="366.40" y="469.32" font-size="7.12" fill="#1a1a1a">Diamond</text><polygon points="357.10,472.71 354.16,477.96 360.04,477.96" fill="#000" stroke="#000" stroke-width="0.5" stroke-linejoin="miter"/><text x="366.40" y="478.34" font-size="7.12" fill="#1a1a1a">Truncated cubeoctahedron</text><circle cx="357.10" cy="484.86" r="2.39" fill="#000" stroke="#000" stroke-width="0.5"/><text x="366.40" y="487.36" font-size="7.12" fill="#1a1a1a">Rhombic dodecahedron</text><path d="M354.71 493.88L359.49 493.88M357.10 491.49L357.10 496.27" stroke="#555" stroke-width="0.54" fill="none"/><text x="366.40" y="496.38" font-size="7.12" fill="#1a1a1a">G7</text><circle cx="357.10" cy="502.90" r="2.48" fill="none" stroke="#555" stroke-width="0.60"/><text x="366.40" y="505.40" font-size="7.12" fill="#1a1a1a">Dodecahedron</text><path d="M355.21 510.03L358.99 513.81M355.21 513.81L358.99 510.03" stroke="#555" stroke-width="0.54" fill="none"/><text x="366.40" y="514.42" font-size="7.12" fill="#1a1a1a">BCC</text><polygon points="353.97,520.94 359.22,518.00 359.22,523.88" fill="#000" stroke="#000" stroke-width="0.5" stroke-linejoin="miter"/><text x="366.40" y="523.44" font-size="7.12" fill="#1a1a1a">FCC</text><polygon points="353.97,529.96 359.22,527.02 359.22,532.90" fill="none" stroke="#555" stroke-width="0.60" stroke-linejoin="miter"/><text x="366.40" y="532.46" font-size="7.12" fill="#1a1a1a">FCCZ</text><polygon points="360.23,538.98 354.98,536.04 354.98,541.92" fill="#000" stroke="#000" stroke-width="0.5" stroke-linejoin="miter"/><text x="366.40" y="541.48" font-size="7.12" fill="#1a1a1a">Octet truss</text><polygon points="465.53,457.80 460.28,454.86 460.28,460.74" fill="none" stroke="#555" stroke-width="0.60" stroke-linejoin="miter"/><text x="471.10" y="460.30" font-size="7.12" fill="#1a1a1a">Tetrahedron</text><polygon points="462.40,464.46 463.13,465.55 464.44,465.64 463.86,466.82 464.44,468.00 463.13,468.09 462.40,469.18 461.67,468.09 460.36,468.00 460.94,466.82 460.36,465.64 461.67,465.55" fill="#000" stroke="#000" stroke-width="0.5" stroke-linejoin="miter"/><text x="471.10" y="469.32" font-size="7.12" fill="#1a1a1a">Octahedron</text><polygon points="462.40,473.48 463.13,474.57 464.44,474.66 463.86,475.84 464.44,477.02 463.13,477.11 462.40,478.20 461.67,477.11 460.36,477.02 460.94,475.84 460.36,474.66 461.67,474.57" fill="none" stroke="#555" stroke-width="0.60" stroke-linejoin="miter"/><text x="471.10" y="478.34" font-size="7.12" fill="#1a1a1a">Optimized truss</text><polygon points="462.40,482.38 462.98,484.06 464.76,484.09 463.34,485.17 463.86,486.87 462.40,485.85 460.94,486.87 461.46,485.17 460.04,484.09 461.82,484.06" fill="#000" stroke="#000" stroke-width="0.5" stroke-linejoin="miter"/><text x="471.10" y="487.36" font-size="7.12" fill="#1a1a1a">Sheet gyroid</text><polygon points="462.40,491.40 462.98,493.08 464.76,493.11 463.34,494.19 463.86,495.89 462.40,494.87 460.94,495.89 461.46,494.19 460.04,493.11 461.82,493.08" fill="none" stroke="#555" stroke-width="0.60" stroke-linejoin="miter"/><text x="471.10" y="496.38" font-size="7.12" fill="#1a1a1a">Cellular gyroid</text><polygon points="462.40,499.68 464.88,502.90 462.40,506.12 459.92,502.90" fill="#000" stroke="#000" stroke-width="0.5" stroke-linejoin="miter"/><text x="471.10" y="505.40" font-size="7.12" fill="#1a1a1a">Sheet diamond</text><polygon points="462.40,508.70 464.88,511.92 462.40,515.14 459.92,511.92" fill="none" stroke="#555" stroke-width="0.60" stroke-linejoin="miter"/><text x="471.10" y="514.42" font-size="7.12" fill="#1a1a1a"> Cellular diamond</text><polygon points="462.40,524.07 459.46,518.82 465.34,518.82" fill="#000" stroke="#000" stroke-width="0.5" stroke-linejoin="miter"/><text x="471.10" y="523.44" font-size="7.12" fill="#1a1a1a">Sheet IWP</text><polygon points="462.40,533.09 459.46,527.84 465.34,527.84" fill="none" stroke="#555" stroke-width="0.60" stroke-linejoin="miter"/><text x="471.10" y="532.46" font-size="7.12" fill="#1a1a1a">Cellular IWP</text>
<rect x="88.60" y="83.00" width="84.40" height="48.80" fill="#fff" stroke="#4a4a4a" stroke-width="0.9"/><text transform="translate(93.50,92.80) scale(1.0000,1)" font-size="8.15" fill="#1a1a1a">Ideal stretch</text><text transform="translate(93.50,104.00) scale(1.0000,1)" font-size="8.15" fill="#1a1a1a">dominated behavior</text><text x="115.60" y="116.00" font-size="8.8" text-anchor="middle" font-family="'Liberation Serif', 'Times New Roman', serif" font-style="italic" fill="#1a1a1a">E</text><line x1="111.20" y1="118.50" x2="120.20" y2="118.50" stroke="#1a1a1a" stroke-width="0.65"/><text x="111.40" y="126.80" font-size="8.8" font-family="'Liberation Serif', 'Times New Roman', serif" font-style="italic" fill="#1a1a1a">E<tspan font-size="6.4" dy="1.7" font-style="normal">0</tspan></text><text x="125.60" y="122.10" font-size="9.7" text-anchor="middle" fill="#1a1a1a" font-family="'DejaVu Sans', sans-serif">∝</text><path d="M134.80 107.50q-5.6 11.00 0 22.00" fill="none" stroke="#1a1a1a" stroke-width="0.85"/><path d="M145.40 107.50q5.6 11.00 0 22.00" fill="none" stroke="#1a1a1a" stroke-width="0.85"/><text x="140.20" y="115.10" font-size="8.8" text-anchor="middle" font-family="'Liberation Serif', 'Times New Roman', serif" font-style="italic" fill="#1a1a1a">ρ</text><line x1="136.20" y1="118.50" x2="144.20" y2="118.50" stroke="#1a1a1a" stroke-width="0.65"/><text x="136.00" y="126.30" font-size="8.8" font-family="'Liberation Serif', 'Times New Roman', serif" font-style="italic" fill="#1a1a1a">ρ<tspan font-size="6.4" dy="1.7" font-style="normal">0</tspan></text>
<rect x="80.00" y="184.40" width="83.60" height="51.10" fill="#fff" stroke="#4a4a4a" stroke-width="0.9"/><text transform="translate(85.00,194.80) scale(0.9902,1)" font-size="8.15" fill="#1a1a1a">Ideal bending</text><text transform="translate(85.00,205.00) scale(0.9902,1)" font-size="8.15" fill="#1a1a1a">dominated behavior</text><text x="105.40" y="218.70" font-size="8.8" text-anchor="middle" font-family="'Liberation Serif', 'Times New Roman', serif" font-style="italic" fill="#1a1a1a">E</text><line x1="101.00" y1="221.20" x2="110.00" y2="221.20" stroke="#1a1a1a" stroke-width="0.65"/><text x="101.20" y="229.50" font-size="8.8" font-family="'Liberation Serif', 'Times New Roman', serif" font-style="italic" fill="#1a1a1a">E<tspan font-size="6.4" dy="1.7" font-style="normal">0</tspan></text><text x="115.40" y="224.80" font-size="9.7" text-anchor="middle" fill="#1a1a1a" font-family="'DejaVu Sans', sans-serif">∝</text><path d="M124.60 210.20q-5.6 11.00 0 22.00" fill="none" stroke="#1a1a1a" stroke-width="0.85"/><path d="M135.20 210.20q5.6 11.00 0 22.00" fill="none" stroke="#1a1a1a" stroke-width="0.85"/><text x="130.00" y="217.80" font-size="8.8" text-anchor="middle" font-family="'Liberation Serif', 'Times New Roman', serif" font-style="italic" fill="#1a1a1a">ρ</text><line x1="126.00" y1="221.20" x2="134.00" y2="221.20" stroke="#1a1a1a" stroke-width="0.65"/><text x="125.80" y="229.00" font-size="8.8" font-family="'Liberation Serif', 'Times New Roman', serif" font-style="italic" fill="#1a1a1a">ρ<tspan font-size="6.4" dy="1.7" font-style="normal">0</tspan></text><text x="139.60" y="214.60" font-size="7" fill="#1a1a1a" font-family="'Liberation Serif', serif">2</text>
<rect x="86.40" y="368.80" width="81.90" height="48.10" fill="#fff" stroke="#4a4a4a" stroke-width="0.9"/><text transform="translate(91.00,378.40) scale(0.9914,1)" font-size="8.15" fill="#1a1a1a">Ideal stretch</text><text transform="translate(91.00,388.60) scale(0.9914,1)" font-size="8.15" fill="#1a1a1a">dominated behavior</text><text x="113.20" y="400.40" font-size="8.8" text-anchor="middle" font-family="'Liberation Serif', 'Times New Roman', serif" font-style="italic" fill="#1a1a1a">E</text><line x1="108.80" y1="402.90" x2="117.80" y2="402.90" stroke="#1a1a1a" stroke-width="0.65"/><text x="109.00" y="411.20" font-size="8.8" font-family="'Liberation Serif', 'Times New Roman', serif" font-style="italic" fill="#1a1a1a">E<tspan font-size="6.4" dy="1.7" font-style="normal">0</tspan></text><text x="123.20" y="406.50" font-size="9.7" text-anchor="middle" fill="#1a1a1a" font-family="'DejaVu Sans', sans-serif">∝</text><path d="M132.40 391.90q-5.6 11.00 0 22.00" fill="none" stroke="#1a1a1a" stroke-width="0.85"/><path d="M143.00 391.90q5.6 11.00 0 22.00" fill="none" stroke="#1a1a1a" stroke-width="0.85"/><text x="137.80" y="399.50" font-size="8.8" text-anchor="middle" font-family="'Liberation Serif', 'Times New Roman', serif" font-style="italic" fill="#1a1a1a">ρ</text><line x1="133.80" y1="402.90" x2="141.80" y2="402.90" stroke="#1a1a1a" stroke-width="0.65"/><text x="133.60" y="410.70" font-size="8.8" font-family="'Liberation Serif', 'Times New Roman', serif" font-style="italic" fill="#1a1a1a">ρ<tspan font-size="6.4" dy="1.7" font-style="normal">0</tspan></text>
<line x1="131.6" y1="439" x2="147.4" y2="475" stroke="#222" stroke-width="0.8"/>
<circle cx="131.6" cy="439" r="1.7" fill="#111"/>
<rect x="105.40" y="475.20" width="83.20" height="53.50" fill="#fff" stroke="#4a4a4a" stroke-width="0.9"/><text transform="translate(111.00,485.80) scale(0.9656,1)" font-size="8.15" fill="#1a1a1a">Ideal bending</text><text transform="translate(111.00,496.00) scale(0.9656,1)" font-size="8.15" fill="#1a1a1a">dominated behavior</text><text x="126.40" y="512.70" font-size="8.8" text-anchor="middle" font-family="'Liberation Serif', 'Times New Roman', serif" font-style="italic" fill="#1a1a1a">E</text><line x1="122.00" y1="515.20" x2="131.00" y2="515.20" stroke="#1a1a1a" stroke-width="0.65"/><text x="122.20" y="523.50" font-size="8.8" font-family="'Liberation Serif', 'Times New Roman', serif" font-style="italic" fill="#1a1a1a">E<tspan font-size="6.4" dy="1.7" font-style="normal">0</tspan></text><text x="136.40" y="518.80" font-size="9.7" text-anchor="middle" fill="#1a1a1a" font-family="'DejaVu Sans', sans-serif">∝</text><path d="M145.60 504.20q-5.6 11.00 0 22.00" fill="none" stroke="#1a1a1a" stroke-width="0.85"/><path d="M156.20 504.20q5.6 11.00 0 22.00" fill="none" stroke="#1a1a1a" stroke-width="0.85"/><text x="151.00" y="511.80" font-size="8.8" text-anchor="middle" font-family="'Liberation Serif', 'Times New Roman', serif" font-style="italic" fill="#1a1a1a">ρ</text><line x1="147.00" y1="515.20" x2="155.00" y2="515.20" stroke="#1a1a1a" stroke-width="0.65"/><text x="146.80" y="523.00" font-size="8.8" font-family="'Liberation Serif', 'Times New Roman', serif" font-style="italic" fill="#1a1a1a">ρ<tspan font-size="6.4" dy="1.7" font-style="normal">0</tspan></text><text x="160.70" y="505.20" font-size="6.8" fill="#1a1a1a" font-family="'Liberation Serif', serif">3<tspan font-size="9" dy="2.6" dx="-0.2">/</tspan><tspan dy="1.6" dx="-0.2">2</tspan></text>
<text x="65.60" y="20.10" font-size="9.7" text-anchor="end" fill="#111">10</text><text x="70.20" y="14.90" font-size="7.9" text-anchor="end" fill="#111">0</text>
<text x="70.00" y="322.10" font-size="9.7" text-anchor="end" fill="#111">10</text><text x="74.60" y="316.90" font-size="7.9" text-anchor="end" fill="#111">0</text>
<text x="63.00" y="66.70" font-size="9.7" text-anchor="end" fill="#111">10</text><text x="70.20" y="61.50" font-size="7.9" text-anchor="end" fill="#111"><tspan dy="-0.9">-</tspan><tspan dy="0.9">1</tspan></text>
<text x="67.40" y="368.00" font-size="9.7" text-anchor="end" fill="#111">10</text><text x="74.60" y="362.80" font-size="7.9" text-anchor="end" fill="#111"><tspan dy="-0.9">-</tspan><tspan dy="0.9">1</tspan></text>
<text x="63.00" y="113.30" font-size="9.7" text-anchor="end" fill="#111">10</text><text x="70.20" y="108.10" font-size="7.9" text-anchor="end" fill="#111"><tspan dy="-0.9">-</tspan><tspan dy="0.9">2</tspan></text>
<text x="67.40" y="413.90" font-size="9.7" text-anchor="end" fill="#111">10</text><text x="74.60" y="408.70" font-size="7.9" text-anchor="end" fill="#111"><tspan dy="-0.9">-</tspan><tspan dy="0.9">2</tspan></text>
<text x="63.00" y="159.90" font-size="9.7" text-anchor="end" fill="#111">10</text><text x="70.20" y="154.70" font-size="7.9" text-anchor="end" fill="#111"><tspan dy="-0.9">-</tspan><tspan dy="0.9">3</tspan></text>
<text x="67.40" y="459.80" font-size="9.7" text-anchor="end" fill="#111">10</text><text x="74.60" y="454.60" font-size="7.9" text-anchor="end" fill="#111"><tspan dy="-0.9">-</tspan><tspan dy="0.9">3</tspan></text>
<text x="63.00" y="206.50" font-size="9.7" text-anchor="end" fill="#111">10</text><text x="70.20" y="201.30" font-size="7.9" text-anchor="end" fill="#111"><tspan dy="-0.9">-</tspan><tspan dy="0.9">4</tspan></text>
<text x="67.40" y="505.70" font-size="9.7" text-anchor="end" fill="#111">10</text><text x="74.60" y="500.50" font-size="7.9" text-anchor="end" fill="#111"><tspan dy="-0.9">-</tspan><tspan dy="0.9">4</tspan></text>
<text x="64.70" y="264.80" font-size="9.7" fill="#111">10</text><text x="75.90" y="259.80" font-size="7.9" fill="#111"><tspan dy="-0.9">-</tspan><tspan dy="0.9">2</tspan></text>
<text x="69.20" y="563.30" font-size="9.7" fill="#111">10</text><text x="80.40" y="558.30" font-size="7.9" fill="#111"><tspan dy="-0.9">-</tspan><tspan dy="0.9">2</tspan></text>
<text x="295.55" y="264.80" font-size="9.7" fill="#111">10</text><text x="306.75" y="259.80" font-size="7.9" fill="#111"><tspan dy="-0.9">-</tspan><tspan dy="0.9">1</tspan></text>
<text x="296.90" y="563.30" font-size="9.7" fill="#111">10</text><text x="308.10" y="558.30" font-size="7.9" fill="#111"><tspan dy="-0.9">-</tspan><tspan dy="0.9">1</tspan></text>
<text x="527.70" y="264.80" font-size="9.7" fill="#111">10</text><text x="538.90" y="259.80" font-size="7.9" fill="#111">0</text>
<text x="525.90" y="563.30" font-size="9.7" fill="#111">10</text><text x="537.10" y="558.30" font-size="7.9" fill="#111">0</text>
<text x="251.8" y="278.6" font-size="11.3" fill="#111">Relative density, <tspan font-family="'Liberation Serif', 'Times New Roman', serif" font-style="italic" font-size="10.8" dx="0.6">ρ</tspan><tspan dx="0.3">/</tspan><tspan font-family="'Liberation Serif', 'Times New Roman', serif" font-style="italic" font-size="10.8" dx="0.5">ρ</tspan><tspan font-size="9.8" dy="5" dx="0.2">0</tspan></text>
<text x="253.4" y="578.0" font-size="11.3" fill="#111">Relative density, <tspan font-family="'Liberation Serif', 'Times New Roman', serif" font-style="italic" font-size="10.8" dx="0.6">ρ</tspan><tspan dx="0.3">/</tspan><tspan font-family="'Liberation Serif', 'Times New Roman', serif" font-style="italic" font-size="10.8" dx="0.5">ρ</tspan><tspan font-size="9.8" dy="5" dx="0.2">0</tspan></text>
<text transform="translate(43.2,9.4) rotate(-90) scale(1,1.05)" text-anchor="end" font-size="11.3" fill="#111">Quasi-elastic gradient/Bulk elastic modulus, E/E<tspan font-size="9" dy="4.6">0</tspan></text>
<text transform="translate(51.2,332.4) rotate(-90) scale(1,1.05)" text-anchor="end" font-size="11.3" fill="#111">Yield strength/Bulk yield strength, <tspan font-family="'Liberation Serif', 'Times New Roman', serif" font-style="italic" font-size="11.5">σ</tspan><tspan font-size="9" dy="4">y</tspan><tspan dy="-4">/</tspan><tspan font-family="'Liberation Serif', 'Times New Roman', serif" font-style="italic" font-size="11.5">σ</tspan><tspan font-size="9" dy="4">y0</tspan></text>
<text x="5.3" y="25" class="pl" font-size="19" font-weight="bold" fill="#000" font-family="'Liberation Serif', 'Times New Roman', serif">(a)</text>
<text x="6" y="316.3" class="pl" font-size="19" font-weight="bold" fill="#000" font-family="'Liberation Serif', 'Times New Roman', serif">(b)</text>
</svg>
</body></html>
